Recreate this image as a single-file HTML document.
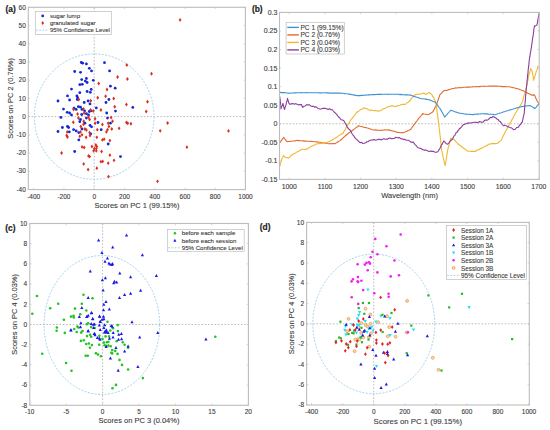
<!DOCTYPE html>
<html><head><meta charset="utf-8"><style>
html,body{margin:0;padding:0;background:#fff;width:550px;height:430px;overflow:hidden}
svg{display:block}
text{font-family:"Liberation Sans", sans-serif}
</style></head><body>
<svg width="550" height="430" viewBox="0 0 550 430">
<rect width="550" height="430" fill="#fff"/>
<line x1="28.3" y1="116.60" x2="245.4" y2="116.60" stroke="#b4b4b4" stroke-width="0.9" stroke-dasharray="1.6 1.7"/>
<line x1="94.20" y1="7.3" x2="94.20" y2="189.6" stroke="#b4b4b4" stroke-width="0.9" stroke-dasharray="1.6 1.7"/>
<ellipse cx="94.2" cy="116.6" rx="59.8" ry="62.7" fill="none" stroke="#92cbe6" stroke-width="0.85" stroke-dasharray="2 1.4"/>
<circle cx="81.3" cy="62.5" r="1.4" fill="#1528d2"/>
<circle cx="82.7" cy="63.2" r="1.4" fill="#1528d2"/>
<circle cx="86.4" cy="63.9" r="1.4" fill="#1528d2"/>
<circle cx="89.3" cy="68.3" r="1.4" fill="#1528d2"/>
<circle cx="91.5" cy="70.9" r="1.4" fill="#1528d2"/>
<circle cx="74.7" cy="71.5" r="1.4" fill="#1528d2"/>
<circle cx="80.5" cy="72.3" r="1.4" fill="#1528d2"/>
<circle cx="104.5" cy="62.7" r="1.4" fill="#1528d2"/>
<circle cx="109.6" cy="70.9" r="1.4" fill="#1528d2"/>
<circle cx="81.7" cy="79.6" r="1.4" fill="#1528d2"/>
<circle cx="86.4" cy="78.5" r="1.4" fill="#1528d2"/>
<circle cx="85.3" cy="81.1" r="1.4" fill="#1528d2"/>
<circle cx="87.1" cy="82.5" r="1.4" fill="#1528d2"/>
<circle cx="93.3" cy="80.3" r="1.4" fill="#1528d2"/>
<circle cx="79.8" cy="84.7" r="1.4" fill="#1528d2"/>
<circle cx="82.3" cy="84.3" r="1.4" fill="#1528d2"/>
<circle cx="71.5" cy="89.1" r="1.4" fill="#1528d2"/>
<circle cx="91.2" cy="89.4" r="1.4" fill="#1528d2"/>
<circle cx="87.1" cy="91.5" r="1.4" fill="#1528d2"/>
<circle cx="90.3" cy="92.3" r="1.4" fill="#1528d2"/>
<circle cx="79.8" cy="92.7" r="1.4" fill="#1528d2"/>
<circle cx="110.4" cy="86.2" r="1.4" fill="#1528d2"/>
<circle cx="115.2" cy="88.2" r="1.4" fill="#1528d2"/>
<circle cx="67.5" cy="95.9" r="1.4" fill="#1528d2"/>
<circle cx="76.9" cy="95.9" r="1.4" fill="#1528d2"/>
<circle cx="77.6" cy="97.7" r="1.4" fill="#1528d2"/>
<circle cx="69.6" cy="100.0" r="1.4" fill="#1528d2"/>
<circle cx="58.0" cy="101.0" r="1.4" fill="#1528d2"/>
<circle cx="77.3" cy="99.5" r="1.4" fill="#1528d2"/>
<circle cx="108.9" cy="99.5" r="1.4" fill="#1528d2"/>
<circle cx="106.0" cy="102.5" r="1.4" fill="#1528d2"/>
<circle cx="88.1" cy="101.0" r="1.4" fill="#1528d2"/>
<circle cx="84.2" cy="102.5" r="1.4" fill="#1528d2"/>
<circle cx="90.0" cy="103.9" r="1.4" fill="#1528d2"/>
<circle cx="63.5" cy="109.1" r="1.4" fill="#1528d2"/>
<circle cx="74.0" cy="108.2" r="1.4" fill="#1528d2"/>
<circle cx="76.2" cy="109.4" r="1.4" fill="#1528d2"/>
<circle cx="78.4" cy="106.7" r="1.4" fill="#1528d2"/>
<circle cx="80.5" cy="107.2" r="1.4" fill="#1528d2"/>
<circle cx="82.0" cy="109.4" r="1.4" fill="#1528d2"/>
<circle cx="84.6" cy="110.8" r="1.4" fill="#1528d2"/>
<circle cx="67.2" cy="112.3" r="1.4" fill="#1528d2"/>
<circle cx="69.6" cy="113.0" r="1.4" fill="#1528d2"/>
<circle cx="71.5" cy="114.9" r="1.4" fill="#1528d2"/>
<circle cx="81.7" cy="114.5" r="1.4" fill="#1528d2"/>
<circle cx="86.4" cy="113.7" r="1.4" fill="#1528d2"/>
<circle cx="89.3" cy="111.5" r="1.4" fill="#1528d2"/>
<circle cx="91.0" cy="110.8" r="1.4" fill="#1528d2"/>
<circle cx="88.5" cy="114.9" r="1.4" fill="#1528d2"/>
<circle cx="96.3" cy="107.9" r="1.4" fill="#1528d2"/>
<circle cx="106.7" cy="113.0" r="1.4" fill="#1528d2"/>
<circle cx="115.5" cy="111.1" r="1.4" fill="#1528d2"/>
<circle cx="60.9" cy="117.4" r="1.4" fill="#1528d2"/>
<circle cx="86.4" cy="118.1" r="1.4" fill="#1528d2"/>
<circle cx="80.5" cy="119.5" r="1.4" fill="#1528d2"/>
<circle cx="79.8" cy="121.7" r="1.4" fill="#1528d2"/>
<circle cx="84.9" cy="123.2" r="1.4" fill="#1528d2"/>
<circle cx="90.0" cy="125.4" r="1.4" fill="#1528d2"/>
<circle cx="91.5" cy="126.8" r="1.4" fill="#1528d2"/>
<circle cx="98.0" cy="122.5" r="1.4" fill="#1528d2"/>
<circle cx="107.5" cy="118.1" r="1.4" fill="#1528d2"/>
<circle cx="110.4" cy="123.2" r="1.4" fill="#1528d2"/>
<circle cx="62.4" cy="127.5" r="1.4" fill="#1528d2"/>
<circle cx="67.5" cy="126.5" r="1.4" fill="#1528d2"/>
<circle cx="68.6" cy="127.5" r="1.4" fill="#1528d2"/>
<circle cx="73.6" cy="129.7" r="1.4" fill="#1528d2"/>
<circle cx="76.2" cy="130.9" r="1.4" fill="#1528d2"/>
<circle cx="82.0" cy="129.0" r="1.4" fill="#1528d2"/>
<circle cx="101.2" cy="129.7" r="1.4" fill="#1528d2"/>
<circle cx="58.0" cy="131.5" r="1.4" fill="#1528d2"/>
<circle cx="69.3" cy="131.9" r="1.4" fill="#1528d2"/>
<circle cx="78.8" cy="132.6" r="1.4" fill="#1528d2"/>
<circle cx="90.7" cy="133.8" r="1.4" fill="#1528d2"/>
<circle cx="78.8" cy="139.9" r="1.4" fill="#1528d2"/>
<circle cx="108.2" cy="144.0" r="1.4" fill="#1528d2"/>
<circle cx="74.7" cy="151.5" r="1.4" fill="#1528d2"/>
<circle cx="120.5" cy="156.6" r="1.4" fill="#1528d2"/>
<circle cx="132.8" cy="107.4" r="1.4" fill="#1528d2"/>
<path d="M126.8 63.1L128.2 65.1L126.8 67.0L125.4 65.1Z" fill="#d8301e"/>
<path d="M117.6 75.0L119.0 77.0L117.6 79.0L116.2 77.0Z" fill="#d8301e"/>
<path d="M127.4 77.0L128.8 78.9L127.4 80.9L126.0 78.9Z" fill="#d8301e"/>
<path d="M98.7 81.5L100.1 83.5L98.7 85.5L97.3 83.5Z" fill="#d8301e"/>
<path d="M107.0 87.5L108.4 89.4L107.0 91.4L105.6 89.4Z" fill="#d8301e"/>
<path d="M97.7 95.8L99.1 97.7L97.7 99.7L96.3 97.7Z" fill="#d8301e"/>
<path d="M105.6 94.2L107.0 96.2L105.6 98.2L104.2 96.2Z" fill="#d8301e"/>
<path d="M113.7 96.5L115.1 98.4L113.7 100.4L112.3 98.4Z" fill="#d8301e"/>
<path d="M78.8 97.5L80.2 99.5L78.8 101.5L77.4 99.5Z" fill="#d8301e"/>
<path d="M90.7 98.8L92.1 100.7L90.7 102.7L89.3 100.7Z" fill="#d8301e"/>
<path d="M126.4 102.6L127.8 104.6L126.4 106.5L125.0 104.6Z" fill="#d8301e"/>
<path d="M73.6 107.5L75.0 109.4L73.6 111.4L72.2 109.4Z" fill="#d8301e"/>
<path d="M83.5 107.1L84.9 109.1L83.5 111.0L82.1 109.1Z" fill="#d8301e"/>
<path d="M90.4 108.1L91.8 110.1L90.4 112.0L89.0 110.1Z" fill="#d8301e"/>
<path d="M93.3 109.1L94.7 111.1L93.3 113.0L91.9 111.1Z" fill="#d8301e"/>
<path d="M100.9 108.1L102.3 110.1L100.9 112.0L99.5 110.1Z" fill="#d8301e"/>
<path d="M114.7 104.8L116.1 106.7L114.7 108.7L113.3 106.7Z" fill="#d8301e"/>
<path d="M77.6 112.0L79.0 114.0L77.6 116.0L76.2 114.0Z" fill="#d8301e"/>
<path d="M84.2 111.0L85.6 113.0L84.2 115.0L82.8 113.0Z" fill="#d8301e"/>
<path d="M88.5 115.0L89.9 116.9L88.5 118.9L87.1 116.9Z" fill="#d8301e"/>
<path d="M78.4 116.1L79.8 118.1L78.4 120.0L77.0 118.1Z" fill="#d8301e"/>
<path d="M95.1 116.8L96.5 118.8L95.1 120.8L93.7 118.8Z" fill="#d8301e"/>
<path d="M111.1 115.5L112.5 117.4L111.1 119.4L109.7 117.4Z" fill="#d8301e"/>
<path d="M73.3 120.2L74.7 122.2L73.3 124.2L71.9 122.2Z" fill="#d8301e"/>
<path d="M83.7 119.3L85.1 121.3L83.7 123.2L82.3 121.3Z" fill="#d8301e"/>
<path d="M83.5 122.2L84.9 124.2L83.5 126.2L82.1 124.2Z" fill="#d8301e"/>
<path d="M89.6 117.5L91.0 119.5L89.6 121.5L88.2 119.5Z" fill="#d8301e"/>
<path d="M95.1 121.2L96.5 123.2L95.1 125.2L93.7 123.2Z" fill="#d8301e"/>
<path d="M102.4 122.6L103.8 124.6L102.4 126.5L101.0 124.6Z" fill="#d8301e"/>
<path d="M108.2 121.2L109.6 123.2L108.2 125.2L106.8 123.2Z" fill="#d8301e"/>
<path d="M112.5 119.3L113.9 121.3L112.5 123.2L111.1 121.3Z" fill="#d8301e"/>
<path d="M126.4 120.5L127.8 122.5L126.4 124.5L125.0 122.5Z" fill="#d8301e"/>
<path d="M127.7 121.2L129.1 123.2L127.7 125.2L126.3 123.2Z" fill="#d8301e"/>
<path d="M80.8 124.5L82.2 126.5L80.8 128.4L79.4 126.5Z" fill="#d8301e"/>
<path d="M108.9 124.5L110.3 126.5L108.9 128.4L107.5 126.5Z" fill="#d8301e"/>
<path d="M84.9 127.0L86.3 129.0L84.9 130.9L83.5 129.0Z" fill="#d8301e"/>
<path d="M86.4 128.1L87.8 130.0L86.4 131.9L85.0 130.0Z" fill="#d8301e"/>
<path d="M97.3 127.7L98.7 129.7L97.3 131.6L95.9 129.7Z" fill="#d8301e"/>
<path d="M107.5 127.7L108.9 129.7L107.5 131.6L106.1 129.7Z" fill="#d8301e"/>
<path d="M111.8 127.0L113.2 129.0L111.8 130.9L110.4 129.0Z" fill="#d8301e"/>
<path d="M119.1 126.4L120.5 128.3L119.1 130.2L117.7 128.3Z" fill="#d8301e"/>
<path d="M67.2 130.0L68.6 131.9L67.2 133.8L65.8 131.9Z" fill="#d8301e"/>
<path d="M80.5 130.0L81.9 131.9L80.5 133.8L79.1 131.9Z" fill="#d8301e"/>
<path d="M89.6 130.7L91.0 132.6L89.6 134.5L88.2 132.6Z" fill="#d8301e"/>
<path d="M106.4 130.0L107.8 131.9L106.4 133.8L105.0 131.9Z" fill="#d8301e"/>
<path d="M66.7 133.6L68.1 135.5L66.7 137.4L65.3 135.5Z" fill="#d8301e"/>
<path d="M67.5 135.1L68.9 137.0L67.5 138.9L66.1 137.0Z" fill="#d8301e"/>
<path d="M79.8 134.4L81.2 136.3L79.8 138.2L78.4 136.3Z" fill="#d8301e"/>
<path d="M82.0 132.9L83.4 134.8L82.0 136.8L80.6 134.8Z" fill="#d8301e"/>
<path d="M86.1 135.4L87.5 137.3L86.1 139.2L84.7 137.3Z" fill="#d8301e"/>
<path d="M90.0 133.6L91.4 135.5L90.0 137.4L88.6 135.5Z" fill="#d8301e"/>
<path d="M96.8 135.4L98.2 137.3L96.8 139.2L95.4 137.3Z" fill="#d8301e"/>
<path d="M102.4 138.0L103.8 139.9L102.4 141.8L101.0 139.9Z" fill="#d8301e"/>
<path d="M104.1 137.2L105.5 139.2L104.1 141.1L102.7 139.2Z" fill="#d8301e"/>
<path d="M109.9 138.7L111.3 140.6L109.9 142.5L108.5 140.6Z" fill="#d8301e"/>
<path d="M95.8 143.1L97.2 145.0L95.8 146.9L94.4 145.0Z" fill="#d8301e"/>
<path d="M91.9 144.6L93.3 146.5L91.9 148.4L90.5 146.5Z" fill="#d8301e"/>
<path d="M82.0 145.0L83.4 146.9L82.0 148.8L80.6 146.9Z" fill="#d8301e"/>
<path d="M84.2 145.6L85.6 147.5L84.2 149.4L82.8 147.5Z" fill="#d8301e"/>
<path d="M94.4 146.7L95.8 148.6L94.4 150.5L93.0 148.6Z" fill="#d8301e"/>
<path d="M96.3 146.7L97.7 148.6L96.3 150.5L94.9 148.6Z" fill="#d8301e"/>
<path d="M96.8 144.6L98.2 146.5L96.8 148.4L95.4 146.5Z" fill="#d8301e"/>
<path d="M93.6 148.9L95.0 150.8L93.6 152.8L92.2 150.8Z" fill="#d8301e"/>
<path d="M96.3 148.9L97.7 150.8L96.3 152.8L94.9 150.8Z" fill="#d8301e"/>
<path d="M101.6 149.6L103.0 151.5L101.6 153.4L100.2 151.5Z" fill="#d8301e"/>
<path d="M61.6 151.1L63.0 153.0L61.6 154.9L60.2 153.0Z" fill="#d8301e"/>
<path d="M88.5 154.0L89.9 155.9L88.5 157.8L87.1 155.9Z" fill="#d8301e"/>
<path d="M89.6 154.7L91.0 156.6L89.6 158.5L88.2 156.6Z" fill="#d8301e"/>
<path d="M109.9 153.2L111.3 155.2L109.9 157.1L108.5 155.2Z" fill="#d8301e"/>
<path d="M100.9 159.8L102.3 161.7L100.9 163.6L99.5 161.7Z" fill="#d8301e"/>
<path d="M102.7 159.5L104.1 161.4L102.7 163.3L101.3 161.4Z" fill="#d8301e"/>
<path d="M114.0 158.4L115.4 160.3L114.0 162.2L112.6 160.3Z" fill="#d8301e"/>
<path d="M108.2 161.2L109.6 163.2L108.2 165.1L106.8 163.2Z" fill="#d8301e"/>
<path d="M83.7 162.0L85.1 163.9L83.7 165.8L82.3 163.9Z" fill="#d8301e"/>
<path d="M88.1 167.7L89.5 169.6L88.1 171.5L86.7 169.6Z" fill="#d8301e"/>
<path d="M96.8 166.2L98.2 168.2L96.8 170.1L95.4 168.2Z" fill="#d8301e"/>
<path d="M108.5 174.7L109.9 176.6L108.5 178.5L107.1 176.6Z" fill="#d8301e"/>
<path d="M151.5 71.8L152.9 73.8L151.5 75.8L150.1 73.8Z" fill="#d8301e"/>
<path d="M147.5 99.8L148.9 101.7L147.5 103.7L146.1 101.7Z" fill="#d8301e"/>
<path d="M146.2 109.5L147.6 111.5L146.2 113.5L144.8 111.5Z" fill="#d8301e"/>
<path d="M130.9 121.8L132.3 123.7L130.9 125.7L129.5 123.7Z" fill="#d8301e"/>
<path d="M167.6 121.1L169.0 123.1L167.6 125.0L166.2 123.1Z" fill="#d8301e"/>
<path d="M160.2 128.9L161.6 130.8L160.2 132.8L158.8 130.8Z" fill="#d8301e"/>
<path d="M186.9 145.2L188.3 147.2L186.9 149.1L185.5 147.2Z" fill="#d8301e"/>
<path d="M228.5 129.0L229.9 130.9L228.5 132.8L227.1 130.9Z" fill="#d8301e"/>
<path d="M157.5 179.4L158.9 181.3L157.5 183.2L156.1 181.3Z" fill="#d8301e"/>
<path d="M180.1 17.9L181.5 19.9L180.1 21.8L178.7 19.9Z" fill="#d8301e"/>
<rect x="28.3" y="7.3" width="217.10" height="182.30" fill="none" stroke="#bdbdbd" stroke-width="1.1"/>
<line x1="33.68" y1="189.6" x2="33.68" y2="187.79999999999998" stroke="#bdbdbd" stroke-width="0.6"/>
<line x1="33.68" y1="7.3" x2="33.68" y2="9.1" stroke="#bdbdbd" stroke-width="0.6"/>
<text x="33.68" y="198.80" font-size="6.5" text-anchor="middle" fill="#3a3a3a" stroke="#3a3a3a" stroke-width="0.1" font-weight="normal" >-400</text>
<line x1="63.94" y1="189.6" x2="63.94" y2="187.79999999999998" stroke="#bdbdbd" stroke-width="0.6"/>
<line x1="63.94" y1="7.3" x2="63.94" y2="9.1" stroke="#bdbdbd" stroke-width="0.6"/>
<text x="63.94" y="198.80" font-size="6.5" text-anchor="middle" fill="#3a3a3a" stroke="#3a3a3a" stroke-width="0.1" font-weight="normal" >-200</text>
<line x1="94.20" y1="189.6" x2="94.20" y2="187.79999999999998" stroke="#bdbdbd" stroke-width="0.6"/>
<line x1="94.20" y1="7.3" x2="94.20" y2="9.1" stroke="#bdbdbd" stroke-width="0.6"/>
<text x="94.20" y="198.80" font-size="6.5" text-anchor="middle" fill="#3a3a3a" stroke="#3a3a3a" stroke-width="0.1" font-weight="normal" >0</text>
<line x1="124.46" y1="189.6" x2="124.46" y2="187.79999999999998" stroke="#bdbdbd" stroke-width="0.6"/>
<line x1="124.46" y1="7.3" x2="124.46" y2="9.1" stroke="#bdbdbd" stroke-width="0.6"/>
<text x="124.46" y="198.80" font-size="6.5" text-anchor="middle" fill="#3a3a3a" stroke="#3a3a3a" stroke-width="0.1" font-weight="normal" >200</text>
<line x1="154.72" y1="189.6" x2="154.72" y2="187.79999999999998" stroke="#bdbdbd" stroke-width="0.6"/>
<line x1="154.72" y1="7.3" x2="154.72" y2="9.1" stroke="#bdbdbd" stroke-width="0.6"/>
<text x="154.72" y="198.80" font-size="6.5" text-anchor="middle" fill="#3a3a3a" stroke="#3a3a3a" stroke-width="0.1" font-weight="normal" >400</text>
<line x1="184.98" y1="189.6" x2="184.98" y2="187.79999999999998" stroke="#bdbdbd" stroke-width="0.6"/>
<line x1="184.98" y1="7.3" x2="184.98" y2="9.1" stroke="#bdbdbd" stroke-width="0.6"/>
<text x="184.98" y="198.80" font-size="6.5" text-anchor="middle" fill="#3a3a3a" stroke="#3a3a3a" stroke-width="0.1" font-weight="normal" >600</text>
<line x1="215.24" y1="189.6" x2="215.24" y2="187.79999999999998" stroke="#bdbdbd" stroke-width="0.6"/>
<line x1="215.24" y1="7.3" x2="215.24" y2="9.1" stroke="#bdbdbd" stroke-width="0.6"/>
<text x="215.24" y="198.80" font-size="6.5" text-anchor="middle" fill="#3a3a3a" stroke="#3a3a3a" stroke-width="0.1" font-weight="normal" >800</text>
<line x1="245.50" y1="189.6" x2="245.50" y2="187.79999999999998" stroke="#bdbdbd" stroke-width="0.6"/>
<line x1="245.50" y1="7.3" x2="245.50" y2="9.1" stroke="#bdbdbd" stroke-width="0.6"/>
<text x="245.50" y="198.80" font-size="6.5" text-anchor="middle" fill="#3a3a3a" stroke="#3a3a3a" stroke-width="0.1" font-weight="normal" >1000</text>
<line x1="28.3" y1="189.40" x2="30.1" y2="189.40" stroke="#bdbdbd" stroke-width="0.6"/>
<line x1="245.4" y1="189.40" x2="243.6" y2="189.40" stroke="#bdbdbd" stroke-width="0.6"/>
<text x="25.80" y="191.67" font-size="6.5" text-anchor="end" fill="#3a3a3a" stroke="#3a3a3a" stroke-width="0.1" font-weight="normal" >-40</text>
<line x1="28.3" y1="171.20" x2="30.1" y2="171.20" stroke="#bdbdbd" stroke-width="0.6"/>
<line x1="245.4" y1="171.20" x2="243.6" y2="171.20" stroke="#bdbdbd" stroke-width="0.6"/>
<text x="25.80" y="173.47" font-size="6.5" text-anchor="end" fill="#3a3a3a" stroke="#3a3a3a" stroke-width="0.1" font-weight="normal" >-30</text>
<line x1="28.3" y1="153.00" x2="30.1" y2="153.00" stroke="#bdbdbd" stroke-width="0.6"/>
<line x1="245.4" y1="153.00" x2="243.6" y2="153.00" stroke="#bdbdbd" stroke-width="0.6"/>
<text x="25.80" y="155.28" font-size="6.5" text-anchor="end" fill="#3a3a3a" stroke="#3a3a3a" stroke-width="0.1" font-weight="normal" >-20</text>
<line x1="28.3" y1="134.80" x2="30.1" y2="134.80" stroke="#bdbdbd" stroke-width="0.6"/>
<line x1="245.4" y1="134.80" x2="243.6" y2="134.80" stroke="#bdbdbd" stroke-width="0.6"/>
<text x="25.80" y="137.07" font-size="6.5" text-anchor="end" fill="#3a3a3a" stroke="#3a3a3a" stroke-width="0.1" font-weight="normal" >-10</text>
<line x1="28.3" y1="116.60" x2="30.1" y2="116.60" stroke="#bdbdbd" stroke-width="0.6"/>
<line x1="245.4" y1="116.60" x2="243.6" y2="116.60" stroke="#bdbdbd" stroke-width="0.6"/>
<text x="25.80" y="118.88" font-size="6.5" text-anchor="end" fill="#3a3a3a" stroke="#3a3a3a" stroke-width="0.1" font-weight="normal" >0</text>
<line x1="28.3" y1="98.40" x2="30.1" y2="98.40" stroke="#bdbdbd" stroke-width="0.6"/>
<line x1="245.4" y1="98.40" x2="243.6" y2="98.40" stroke="#bdbdbd" stroke-width="0.6"/>
<text x="25.80" y="100.67" font-size="6.5" text-anchor="end" fill="#3a3a3a" stroke="#3a3a3a" stroke-width="0.1" font-weight="normal" >10</text>
<line x1="28.3" y1="80.20" x2="30.1" y2="80.20" stroke="#bdbdbd" stroke-width="0.6"/>
<line x1="245.4" y1="80.20" x2="243.6" y2="80.20" stroke="#bdbdbd" stroke-width="0.6"/>
<text x="25.80" y="82.47" font-size="6.5" text-anchor="end" fill="#3a3a3a" stroke="#3a3a3a" stroke-width="0.1" font-weight="normal" >20</text>
<line x1="28.3" y1="62.00" x2="30.1" y2="62.00" stroke="#bdbdbd" stroke-width="0.6"/>
<line x1="245.4" y1="62.00" x2="243.6" y2="62.00" stroke="#bdbdbd" stroke-width="0.6"/>
<text x="25.80" y="64.27" font-size="6.5" text-anchor="end" fill="#3a3a3a" stroke="#3a3a3a" stroke-width="0.1" font-weight="normal" >30</text>
<line x1="28.3" y1="43.80" x2="30.1" y2="43.80" stroke="#bdbdbd" stroke-width="0.6"/>
<line x1="245.4" y1="43.80" x2="243.6" y2="43.80" stroke="#bdbdbd" stroke-width="0.6"/>
<text x="25.80" y="46.07" font-size="6.5" text-anchor="end" fill="#3a3a3a" stroke="#3a3a3a" stroke-width="0.1" font-weight="normal" >40</text>
<line x1="28.3" y1="25.60" x2="30.1" y2="25.60" stroke="#bdbdbd" stroke-width="0.6"/>
<line x1="245.4" y1="25.60" x2="243.6" y2="25.60" stroke="#bdbdbd" stroke-width="0.6"/>
<text x="25.80" y="27.87" font-size="6.5" text-anchor="end" fill="#3a3a3a" stroke="#3a3a3a" stroke-width="0.1" font-weight="normal" >50</text>
<line x1="28.3" y1="7.40" x2="30.1" y2="7.40" stroke="#bdbdbd" stroke-width="0.6"/>
<line x1="245.4" y1="7.40" x2="243.6" y2="7.40" stroke="#bdbdbd" stroke-width="0.6"/>
<text x="25.80" y="9.67" font-size="6.5" text-anchor="end" fill="#3a3a3a" stroke="#3a3a3a" stroke-width="0.1" font-weight="normal" >60</text>
<text x="137.00" y="207.80" font-size="7.5" text-anchor="middle" fill="#3a3a3a" stroke="#3a3a3a" stroke-width="0.1" font-weight="normal" >Scores on PC 1 (99.15%)</text>
<text x="0.00" y="0.00" font-size="7.5" text-anchor="middle" fill="#3a3a3a" stroke="#3a3a3a" stroke-width="0.1" font-weight="normal" transform="translate(13.3 98.4) rotate(-90)">Scores on PC 2 (0.76%)</text>
<text x="5.50" y="12.40" font-size="8.4" text-anchor="start" fill="#222" stroke="#222" stroke-width="0.18" font-weight="bold" >(a)</text>
<rect x="35.3" y="11.5" width="76.0" height="23.1" fill="#fff" stroke="#bdbdbd" stroke-width="0.7"/>
<circle cx="42.7" cy="15.9" r="1.4" fill="#1528d2"/>
<path d="M42.7 21.1L44.1 23.0L42.7 24.9L41.3 23.0Z" fill="#d8301e"/>
<line x1="36" y1="30.2" x2="48.6" y2="30.2" stroke="#8cc6e0" stroke-width="0.8" stroke-dasharray="1.8 1.4"/>
<text x="49.90" y="18.10" font-size="6.1" text-anchor="start" fill="#3a3a3a" stroke="#3a3a3a" stroke-width="0.1" font-weight="normal" >sugar lump</text>
<text x="49.90" y="25.20" font-size="6.1" text-anchor="start" fill="#3a3a3a" stroke="#3a3a3a" stroke-width="0.1" font-weight="normal" >granulated sugar</text>
<text x="49.90" y="32.40" font-size="6.0" text-anchor="start" fill="#3a3a3a" stroke="#3a3a3a" stroke-width="0.1" font-weight="normal" >95% Confidence Level</text>
<line x1="279.5" y1="123.79" x2="539.2" y2="123.79" stroke="#b4b4b4" stroke-width="0.9" stroke-dasharray="1.6 1.7"/>
<path d="M280.0 142.6 L280.9 141.2 L281.9 139.9 L282.8 138.7 L283.7 137.3 L284.5 138.5 L285.4 139.6 L286.2 140.6 L287.0 141.8 L288.3 141.5 L289.6 141.5 L291.0 141.2 L292.3 141.0 L293.6 141.0 L295.0 140.9 L296.3 140.5 L297.6 140.4 L298.9 140.6 L300.3 140.8 L301.6 140.8 L303.0 140.9 L304.3 141.1 L305.7 141.0 L307.0 141.3 L308.4 141.2 L309.9 141.3 L311.3 141.4 L312.8 141.5 L314.2 141.8 L315.7 141.7 L317.1 141.9 L318.5 142.2 L320.0 142.3 L321.4 142.6 L322.8 142.7 L324.2 142.9 L325.6 143.2 L327.1 143.5 L328.5 143.7 L329.8 143.6 L331.1 143.7 L332.4 143.6 L333.7 143.6 L335.0 143.7 L336.2 142.9 L337.5 142.0 L338.8 141.4 L340.0 140.6 L341.1 139.8 L342.1 138.8 L343.2 137.8 L344.2 137.0 L345.3 135.8 L346.3 135.0 L347.4 134.2 L348.5 133.2 L349.6 132.4 L350.8 131.5 L351.9 130.8 L353.0 130.0 L354.1 129.1 L355.2 128.4 L356.4 127.4 L357.5 126.7 L358.6 125.8 L360.1 126.2 L361.6 126.5 L363.0 127.0 L364.5 127.4 L366.0 127.6 L367.2 128.0 L368.5 128.2 L369.8 128.8 L371.0 129.2 L372.2 129.7 L373.5 130.0 L375.0 129.9 L376.5 130.1 L378.0 130.3 L379.5 130.2 L381.0 130.4 L382.5 130.2 L383.9 130.0 L385.4 129.9 L386.8 130.0 L388.3 129.7 L389.6 130.1 L391.0 130.5 L392.3 131.0 L393.6 131.1 L394.9 131.6 L396.3 132.0 L397.6 132.4 L399.0 132.5 L400.4 132.7 L401.8 132.6 L403.2 132.8 L404.4 132.2 L405.7 131.8 L406.9 131.3 L408.1 130.5 L409.4 130.0 L410.6 129.4 L411.4 128.3 L412.2 127.2 L413.1 126.1 L413.9 124.9 L414.7 123.7 L415.5 122.7 L416.4 121.5 L417.2 120.5 L418.0 119.4 L418.9 118.2 L419.9 117.1 L420.8 116.0 L421.8 114.9 L422.7 113.6 L424.1 114.0 L425.5 114.2 L426.9 114.5 L428.3 114.7 L429.4 113.9 L430.6 113.2 L431.8 112.4 L432.9 111.8 L433.5 110.4 L434.2 109.2 L434.8 108.0 L435.4 106.8 L436.1 105.6 L436.7 104.3 L437.1 102.9 L437.6 101.6 L438.0 100.2 L438.5 98.9 L438.9 97.5 L439.4 96.4 L439.8 94.9 L440.8 93.8 L441.8 92.8 L442.7 91.9 L443.7 90.9 L445.0 90.5 L446.3 90.4 L447.7 90.1 L449.0 89.6 L450.3 89.3 L451.6 88.8 L453.0 88.5 L454.3 88.3 L455.6 87.9 L457.0 88.0 L458.4 87.7 L459.7 87.6 L461.1 87.7 L462.5 87.5 L463.9 87.3 L465.3 87.3 L466.6 87.1 L468.0 87.1 L469.4 87.1 L470.7 87.0 L472.0 86.9 L473.4 86.7 L474.7 86.7 L476.0 86.6 L477.3 86.7 L478.6 86.5 L480.0 86.6 L481.3 86.3 L482.6 86.3 L483.9 86.4 L485.2 86.3 L486.6 86.2 L487.9 86.2 L489.2 86.1 L490.5 86.1 L491.8 86.0 L493.1 86.1 L494.5 86.1 L495.8 86.1 L497.1 86.1 L498.4 86.2 L499.7 86.3 L501.0 86.4 L502.3 86.6 L503.7 86.5 L505.0 86.6 L506.3 86.7 L507.6 86.7 L508.9 86.8 L510.2 87.0 L511.5 87.3 L512.8 87.6 L514.1 87.8 L515.4 88.2 L516.7 88.6 L518.0 88.8 L519.2 89.2 L520.4 89.8 L521.6 90.3 L522.9 90.6 L524.1 91.3 L525.3 91.9 L526.6 92.5 L527.8 93.2 L529.1 93.7 L530.3 94.3 L531.6 95.1 L533.0 94.9 L534.5 95.1 L535.1 96.4 L535.6 97.6 L536.2 98.9 L536.8 100.3 L537.5 101.5 L538.2 102.6 L538.9 104.0" fill="none" stroke="#e2692f" stroke-width="1.1" stroke-linejoin="round"/>
<path d="M280.0 166.2 L280.3 164.5 L280.6 163.1 L281.0 162.2 L281.3 160.7 L281.8 159.0 L282.2 158.3 L282.7 157.2 L283.2 155.7 L284.2 156.3 L285.3 157.2 L286.7 157.5 L288.1 158.1 L289.1 157.8 L290.0 156.6 L291.0 155.6 L292.1 155.1 L293.2 154.0 L294.3 153.5 L295.7 152.9 L297.0 151.9 L298.4 151.3 L299.7 150.6 L301.1 149.7 L302.4 149.2 L303.6 149.3 L304.9 149.8 L306.1 149.1 L307.3 149.1 L308.5 147.9 L309.8 147.3 L311.0 146.6 L312.2 146.1 L313.4 145.2 L314.6 145.0 L315.9 144.2 L317.1 143.7 L318.7 143.6 L320.4 143.2 L322.0 143.4 L323.6 142.9 L325.3 142.5 L326.9 142.8 L328.2 141.7 L329.5 141.3 L330.8 140.8 L332.1 140.0 L333.4 139.2 L334.6 138.5 L335.9 137.7 L337.1 137.1 L338.3 135.8 L339.5 135.4 L340.6 134.5 L341.8 133.8 L343.0 133.5 L343.6 132.1 L344.3 130.9 L345.0 129.9 L345.6 128.8 L346.3 127.3 L347.0 126.3 L347.7 125.1 L348.4 123.9 L349.1 122.9 L349.8 121.6 L350.5 120.5 L351.2 119.3 L352.1 118.5 L353.1 117.2 L354.0 116.1 L354.9 115.0 L355.8 113.4 L356.8 112.5 L357.7 111.6 L359.0 110.9 L360.3 109.8 L361.6 109.1 L362.9 108.7 L364.2 107.8 L365.5 108.4 L366.8 108.7 L368.1 109.5 L369.4 110.1 L370.7 110.6 L372.0 110.1 L373.4 110.6 L374.7 110.7 L376.0 110.4 L377.3 111.0 L378.7 111.1 L380.0 110.7 L381.1 110.5 L382.3 109.4 L383.5 108.8 L384.6 108.4 L385.9 107.9 L387.2 107.0 L388.5 106.7 L389.8 106.4 L391.1 105.8 L392.7 105.9 L394.2 106.2 L395.8 106.8 L397.2 105.8 L398.6 105.7 L399.9 105.2 L401.3 104.5 L402.9 104.4 L404.4 104.4 L406.0 104.0 L407.1 102.6 L408.3 102.2 L409.5 101.0 L410.6 100.0 L411.5 98.3 L412.5 97.2 L413.4 95.9 L414.3 95.3 L415.7 94.6 L417.1 94.2 L418.6 94.1 L420.0 94.2 L421.8 93.8 L423.6 93.0 L425.5 94.3 L426.7 94.1 L428.0 93.1 L429.2 92.4 L430.5 93.3 L431.9 94.6 L432.5 96.2 L433.2 97.1 L433.9 98.1 L434.5 99.8 L435.1 100.7 L435.8 102.0 L436.0 102.8 L436.2 104.7 L436.3 105.5 L436.5 107.4 L436.7 108.4 L436.9 109.7 L437.0 111.2 L437.2 112.8 L437.4 113.7 L437.6 114.9 L437.7 116.5 L437.9 117.6 L438.1 118.9 L438.3 120.3 L438.4 121.5 L438.6 123.0 L438.8 124.4 L439.0 125.7 L439.1 127.4 L439.3 128.4 L439.4 129.9 L439.6 131.0 L439.7 132.5 L439.9 133.6 L440.0 135.1 L440.2 136.3 L440.3 138.2 L440.5 139.4 L440.6 140.5 L440.8 142.1 L440.9 143.7 L441.1 144.5 L441.2 146.4 L441.4 147.4 L441.5 148.8 L441.7 150.4 L442.0 151.4 L442.3 152.8 L442.6 154.3 L442.8 155.8 L443.1 156.7 L443.4 158.3 L443.7 159.6 L444.0 160.8 L444.2 162.0 L444.5 163.3 L444.8 164.4 L445.1 165.7 L445.3 164.4 L445.5 163.5 L445.8 161.9 L446.0 160.5 L446.2 159.1 L446.4 158.3 L446.6 157.0 L446.8 155.6 L447.1 154.0 L447.3 152.7 L447.5 151.4 L447.7 150.2 L448.0 148.6 L448.3 147.5 L448.7 146.1 L449.0 145.3 L449.3 144.0 L449.6 142.4 L450.0 140.8 L450.3 140.0 L450.6 138.3 L452.1 138.7 L453.6 139.0 L454.6 140.2 L455.6 141.3 L456.6 142.3 L457.5 143.1 L458.5 144.3 L459.5 145.0 L460.6 146.0 L461.8 146.7 L462.9 147.8 L464.0 148.4 L465.1 149.2 L466.3 150.2 L467.4 151.0 L468.7 151.3 L470.0 151.2 L471.4 151.4 L472.7 151.3 L474.0 151.4 L475.3 151.5 L476.6 150.5 L477.9 149.8 L479.2 149.6 L480.6 148.4 L481.9 148.1 L483.2 147.4 L484.4 146.3 L485.6 146.2 L486.8 145.5 L488.0 144.7 L489.2 144.1 L490.5 144.0 L491.8 143.4 L493.1 143.6 L494.5 143.5 L495.8 143.6 L497.1 143.5 L498.2 142.7 L499.2 141.7 L500.2 141.1 L501.3 140.1 L501.9 138.9 L502.6 137.3 L503.2 135.9 L503.8 134.7 L504.5 133.6 L505.1 132.2 L505.7 131.4 L506.3 130.0 L507.0 128.7 L507.6 127.5 L508.3 126.3 L509.0 125.0 L509.7 123.4 L510.4 122.7 L511.1 121.5 L511.8 120.1 L512.4 118.9 L513.1 117.8 L513.8 116.1 L514.5 115.4 L515.2 113.8 L515.9 112.5 L516.6 111.5 L517.3 110.6 L518.0 109.1 L518.7 108.3 L519.4 107.3 L520.1 105.8 L520.8 104.6 L521.5 103.5 L522.2 102.4 L522.6 101.2 L523.0 99.7 L523.3 98.4 L523.7 96.7 L524.1 95.4 L524.5 94.2 L524.9 93.2 L525.3 91.5 L525.6 90.4 L526.0 88.7 L526.4 87.4 L526.7 86.1 L527.0 85.0 L527.2 83.6 L527.5 82.2 L527.8 80.6 L528.1 79.3 L528.3 77.9 L528.6 76.5 L528.9 74.8 L529.2 74.1 L529.6 72.4 L529.9 71.7 L530.3 70.4 L530.6 68.5 L531.4 69.8 L532.2 71.1 L532.4 72.6 L532.6 73.6 L532.8 74.8 L533.1 76.1 L533.3 77.9 L533.5 78.8 L533.7 80.4 L534.1 78.6 L534.5 77.4 L535.0 76.2 L535.4 74.2 L535.8 73.2 L536.3 71.5 L536.8 70.4 L537.3 68.8 L537.8 67.0 L538.3 65.7" fill="none" stroke="#f0b732" stroke-width="1.1" stroke-linejoin="round"/>
<path d="M280.0 92.4 L281.4 92.6 L282.9 92.6 L284.3 92.6 L285.7 92.7 L287.1 93.0 L288.6 93.1 L290.0 93.2 L291.4 93.0 L292.9 93.0 L294.3 92.9 L295.7 92.9 L297.1 92.7 L298.6 92.7 L300.0 92.7 L301.3 92.5 L302.6 92.7 L303.9 92.7 L305.2 92.8 L306.5 92.6 L307.8 92.7 L309.1 92.7 L310.4 92.8 L311.8 92.8 L313.1 92.7 L314.4 92.8 L315.7 92.7 L317.0 92.7 L318.3 92.7 L319.6 92.9 L320.9 92.8 L322.2 93.0 L323.5 92.8 L324.8 92.8 L326.1 92.9 L327.4 92.9 L328.7 92.9 L330.0 93.1 L331.4 93.1 L332.7 93.1 L334.0 93.0 L335.3 93.1 L336.6 93.1 L337.9 93.1 L339.2 93.1 L340.5 93.0 L341.8 93.2 L343.1 93.3 L344.4 93.6 L345.7 93.7 L347.0 93.8 L348.3 94.0 L349.6 94.4 L350.8 94.4 L352.1 94.7 L353.4 94.9 L354.7 95.1 L356.0 95.4 L357.3 95.6 L358.6 95.6 L360.0 95.6 L361.3 95.4 L362.7 95.4 L364.0 95.2 L365.4 95.1 L366.7 95.0 L368.1 94.9 L369.4 94.9 L370.8 94.7 L372.1 94.5 L373.5 94.6 L374.8 94.6 L376.1 94.5 L377.4 94.4 L378.7 94.4 L380.1 94.3 L381.4 94.4 L382.7 94.3 L384.0 94.3 L385.3 94.3 L386.6 94.3 L387.9 94.4 L389.2 94.3 L390.6 94.2 L391.9 94.2 L393.2 94.2 L394.5 94.2 L395.8 94.2 L397.1 94.2 L398.5 94.3 L399.8 94.6 L401.2 94.4 L402.5 94.6 L403.9 94.7 L405.2 94.9 L406.6 94.8 L407.9 94.9 L409.3 95.0 L410.6 95.1 L411.9 95.6 L413.3 96.2 L414.6 96.6 L416.0 97.1 L417.3 97.3 L418.7 97.8 L420.0 98.5 L421.4 98.7 L422.8 98.8 L424.2 99.0 L425.7 99.1 L427.1 99.4 L428.5 99.7 L429.9 99.9 L431.1 100.5 L432.3 101.1 L433.4 101.5 L434.6 102.1 L435.8 102.7 L436.6 104.0 L437.5 105.1 L438.3 106.4 L439.1 107.5 L440.0 108.6 L440.8 109.8 L441.4 110.9 L442.1 112.1 L442.8 113.2 L443.4 114.6 L444.1 115.7 L444.7 117.1 L445.7 115.9 L446.7 114.8 L447.7 113.6 L448.7 112.5 L449.6 111.5 L450.6 110.3 L451.9 110.6 L453.1 111.1 L454.4 111.6 L455.7 112.0 L457.0 112.4 L458.2 112.8 L459.5 113.3 L460.8 113.3 L462.1 113.5 L463.5 113.7 L464.8 114.0 L466.1 114.1 L467.4 114.3 L468.8 114.3 L470.1 114.4 L471.4 114.5 L472.7 114.6 L474.0 114.4 L475.3 114.3 L476.6 114.1 L478.0 114.1 L479.3 114.0 L480.6 113.9 L481.9 113.7 L483.2 113.7 L484.5 113.9 L485.8 113.8 L487.2 113.9 L488.5 114.1 L489.8 114.2 L491.1 114.3 L492.5 114.3 L493.8 114.6 L495.1 114.7 L496.4 114.2 L497.6 113.7 L498.9 113.5 L500.1 113.0 L501.4 112.7 L502.6 112.2 L503.9 111.8 L505.1 111.5 L506.4 111.0 L507.6 110.8 L508.9 110.3 L510.1 109.9 L511.4 109.5 L512.6 109.2 L513.9 108.8 L515.1 108.5 L516.4 108.0 L517.6 107.6 L518.9 107.2 L520.1 107.0 L521.4 106.6 L522.8 106.4 L524.1 106.2 L525.5 106.0 L526.8 105.9 L528.2 105.7 L529.5 105.5 L530.8 106.1 L532.0 106.6 L533.4 107.5 L534.7 108.5 L535.8 107.6 L536.8 106.4 L537.9 105.0 L538.9 104.0" fill="none" stroke="#3d92d4" stroke-width="1.1" stroke-linejoin="round"/>
<path d="M279.8 96.6 L279.9 98.1 L280.1 99.1 L280.2 100.4 L280.3 101.7 L280.5 102.8 L280.6 103.9 L280.7 105.6 L280.9 107.0 L281.0 109.0 L281.6 106.4 L282.3 105.9 L282.9 103.3 L283.3 105.0 L283.8 107.0 L284.2 108.5 L284.6 109.5 L285.0 107.7 L285.3 106.9 L285.7 105.5 L286.1 104.8 L286.4 102.6 L286.8 101.5 L287.1 100.8 L287.5 98.4 L288.1 100.4 L288.6 102.3 L289.2 103.7 L289.8 104.3 L291.4 103.9 L292.9 103.6 L294.5 104.2 L295.9 103.6 L297.3 104.5 L298.8 104.9 L300.2 104.5 L301.6 104.6 L302.2 106.6 L302.8 107.4 L304.0 106.2 L305.2 106.0 L306.4 104.7 L307.8 104.9 L309.2 104.8 L310.7 105.9 L312.1 106.4 L313.5 106.3 L314.7 107.2 L315.9 106.7 L317.0 107.6 L318.2 108.5 L319.6 109.0 L321.0 109.0 L322.5 108.4 L323.9 108.2 L325.3 108.4 L326.7 108.7 L328.1 109.5 L329.6 108.8 L331.0 109.7 L332.4 109.9 L333.3 111.0 L334.2 112.0 L335.1 112.8 L335.9 113.5 L336.8 114.6 L337.7 115.7 L338.6 117.2 L339.5 117.4 L340.0 118.3 L341.2 119.8 L342.5 120.0 L343.7 120.6 L344.5 121.7 L345.3 123.6 L346.1 124.5 L346.9 126.5 L347.7 127.6 L348.5 128.9 L349.3 129.2 L350.1 130.2 L350.9 131.4 L351.7 133.1 L352.5 134.5 L353.3 135.4 L354.1 136.3 L354.9 137.7 L356.0 138.9 L357.1 139.9 L358.2 140.9 L359.3 142.0 L360.4 142.7 L361.7 142.3 L362.9 143.5 L364.2 143.2 L365.6 142.8 L366.9 141.8 L368.3 141.6 L369.7 140.2 L371.2 140.1 L372.7 139.9 L374.2 139.6 L375.7 140.3 L377.2 139.8 L378.5 139.4 L379.9 139.3 L381.2 139.9 L382.5 139.2 L383.8 138.7 L385.2 139.3 L386.5 139.0 L387.8 139.2 L389.2 138.0 L390.5 138.3 L391.8 138.6 L393.1 138.5 L394.5 138.4 L395.8 137.2 L397.2 137.7 L398.6 137.6 L399.9 137.9 L401.3 139.0 L402.6 138.9 L403.8 139.6 L405.1 139.3 L406.3 140.3 L407.6 140.2 L408.8 140.3 L410.3 141.6 L411.9 142.4 L413.4 142.0 L414.3 143.7 L415.2 144.9 L416.2 145.5 L417.1 146.8 L418.0 147.7 L420.0 148.2 L421.3 148.7 L422.6 149.6 L423.9 150.1 L425.3 150.0 L426.6 150.2 L427.9 151.0 L429.3 151.6 L430.7 151.1 L432.1 151.4 L433.6 151.4 L435.0 152.3 L436.4 152.1 L437.8 151.7 L438.5 150.5 L439.1 149.7 L439.8 148.6 L440.4 147.5 L441.1 145.7 L441.7 144.5 L442.4 144.0 L443.0 142.4 L443.7 141.0 L445.0 142.1 L446.4 143.8 L447.7 144.1 L448.7 143.2 L449.7 141.8 L450.6 140.7 L451.6 140.0 L452.6 139.0 L453.4 137.1 L454.1 135.8 L454.9 135.4 L455.7 133.6 L456.4 132.3 L457.2 132.3 L458.0 130.6 L458.7 130.0 L459.5 128.4 L460.5 128.1 L461.5 126.8 L462.5 125.6 L463.5 124.6 L464.5 124.4 L465.5 123.7 L466.9 123.8 L468.3 122.7 L469.7 123.2 L471.1 122.8 L472.5 122.8 L473.9 122.2 L475.3 122.2 L476.6 122.4 L477.9 122.7 L479.2 121.6 L480.6 121.9 L481.9 122.1 L483.2 122.2 L484.4 120.6 L485.7 119.9 L486.9 120.3 L488.1 119.7 L489.4 118.5 L490.6 117.3 L491.9 117.7 L493.1 116.5 L495.0 117.5 L496.0 118.0 L497.0 119.2 L498.0 119.3 L499.0 120.9 L500.1 121.4 L501.2 122.8 L502.3 124.5 L503.4 125.7 L504.8 125.3 L506.1 125.8 L507.5 126.4 L508.8 127.1 L510.0 127.6 L511.3 127.8 L512.5 128.6 L513.8 129.8 L515.2 129.3 L516.6 127.5 L518.0 127.5 L518.8 126.7 L519.7 124.8 L520.5 124.7 L521.4 122.8 L522.2 122.3 L522.5 120.9 L522.8 119.7 L523.1 117.9 L523.4 116.7 L523.7 115.6 L524.0 114.1 L524.3 113.0 L524.4 111.4 L524.5 110.1 L524.6 108.3 L524.7 107.7 L524.8 106.2 L524.9 104.6 L525.0 103.9 L525.1 102.6 L525.3 100.9 L525.4 99.3 L525.5 98.3 L525.6 96.6 L525.7 95.3 L525.8 94.3 L525.9 92.6 L526.0 91.7 L526.1 90.5 L526.3 88.6 L526.4 88.0 L526.5 86.1 L526.7 85.5 L526.8 84.3 L526.9 82.7 L527.0 80.8 L527.2 80.0 L527.3 78.6 L527.4 78.0 L527.6 75.7 L527.7 75.2 L527.8 74.1 L528.0 72.5 L528.1 71.3 L528.2 69.2 L528.4 68.8 L528.5 66.8 L528.7 66.0 L528.9 64.6 L529.0 62.3 L529.1 61.7 L529.3 60.5 L529.5 58.2 L529.7 57.3 L529.9 56.5 L530.1 54.5 L530.3 54.1 L530.5 52.0 L530.8 51.4 L531.0 49.3 L531.2 48.5 L531.4 47.7 L531.6 45.5 L531.8 44.3 L532.0 43.3 L532.2 41.7 L532.4 40.1 L532.5 38.9 L532.7 37.6 L532.9 37.2 L533.1 35.6 L533.3 34.5 L533.5 32.3 L533.7 31.7 L533.8 29.6 L534.0 28.8 L534.2 27.6 L534.4 25.9 L535.7 25.9 L537.0 24.9 L537.2 23.6 L537.5 22.6 L537.7 20.3 L538.0 20.0 L538.2 18.2 L538.5 16.6 L538.7 15.7 L539.0 13.8 L539.2 12.7" fill="none" stroke="#8b3e9c" stroke-width="1.1" stroke-linejoin="round"/>
<rect x="279.5" y="12.4" width="259.70" height="167.00" fill="none" stroke="#bdbdbd" stroke-width="1.1"/>
<line x1="289.30" y1="179.4" x2="289.30" y2="177.6" stroke="#bdbdbd" stroke-width="0.6"/>
<line x1="289.30" y1="12.4" x2="289.30" y2="14.200000000000001" stroke="#bdbdbd" stroke-width="0.6"/>
<text x="289.30" y="188.60" font-size="6.8" text-anchor="middle" fill="#3a3a3a" stroke="#3a3a3a" stroke-width="0.1" font-weight="normal" >1000</text>
<line x1="324.95" y1="179.4" x2="324.95" y2="177.6" stroke="#bdbdbd" stroke-width="0.6"/>
<line x1="324.95" y1="12.4" x2="324.95" y2="14.200000000000001" stroke="#bdbdbd" stroke-width="0.6"/>
<text x="324.95" y="188.60" font-size="6.8" text-anchor="middle" fill="#3a3a3a" stroke="#3a3a3a" stroke-width="0.1" font-weight="normal" >1100</text>
<line x1="360.60" y1="179.4" x2="360.60" y2="177.6" stroke="#bdbdbd" stroke-width="0.6"/>
<line x1="360.60" y1="12.4" x2="360.60" y2="14.200000000000001" stroke="#bdbdbd" stroke-width="0.6"/>
<text x="360.60" y="188.60" font-size="6.8" text-anchor="middle" fill="#3a3a3a" stroke="#3a3a3a" stroke-width="0.1" font-weight="normal" >1200</text>
<line x1="396.25" y1="179.4" x2="396.25" y2="177.6" stroke="#bdbdbd" stroke-width="0.6"/>
<line x1="396.25" y1="12.4" x2="396.25" y2="14.200000000000001" stroke="#bdbdbd" stroke-width="0.6"/>
<text x="396.25" y="188.60" font-size="6.8" text-anchor="middle" fill="#3a3a3a" stroke="#3a3a3a" stroke-width="0.1" font-weight="normal" >1300</text>
<line x1="431.90" y1="179.4" x2="431.90" y2="177.6" stroke="#bdbdbd" stroke-width="0.6"/>
<line x1="431.90" y1="12.4" x2="431.90" y2="14.200000000000001" stroke="#bdbdbd" stroke-width="0.6"/>
<text x="431.90" y="188.60" font-size="6.8" text-anchor="middle" fill="#3a3a3a" stroke="#3a3a3a" stroke-width="0.1" font-weight="normal" >1400</text>
<line x1="467.55" y1="179.4" x2="467.55" y2="177.6" stroke="#bdbdbd" stroke-width="0.6"/>
<line x1="467.55" y1="12.4" x2="467.55" y2="14.200000000000001" stroke="#bdbdbd" stroke-width="0.6"/>
<text x="467.55" y="188.60" font-size="6.8" text-anchor="middle" fill="#3a3a3a" stroke="#3a3a3a" stroke-width="0.1" font-weight="normal" >1500</text>
<line x1="503.20" y1="179.4" x2="503.20" y2="177.6" stroke="#bdbdbd" stroke-width="0.6"/>
<line x1="503.20" y1="12.4" x2="503.20" y2="14.200000000000001" stroke="#bdbdbd" stroke-width="0.6"/>
<text x="503.20" y="188.60" font-size="6.8" text-anchor="middle" fill="#3a3a3a" stroke="#3a3a3a" stroke-width="0.1" font-weight="normal" >1600</text>
<line x1="538.85" y1="179.4" x2="538.85" y2="177.6" stroke="#bdbdbd" stroke-width="0.6"/>
<line x1="538.85" y1="12.4" x2="538.85" y2="14.200000000000001" stroke="#bdbdbd" stroke-width="0.6"/>
<text x="538.85" y="188.60" font-size="6.8" text-anchor="middle" fill="#3a3a3a" stroke="#3a3a3a" stroke-width="0.1" font-weight="normal" >1700</text>
<line x1="279.5" y1="12.40" x2="281.3" y2="12.40" stroke="#bdbdbd" stroke-width="0.6"/>
<line x1="539.2" y1="12.40" x2="537.4000000000001" y2="12.40" stroke="#bdbdbd" stroke-width="0.6"/>
<text x="277.40" y="14.85" font-size="7.0" text-anchor="end" fill="#3a3a3a" stroke="#3a3a3a" stroke-width="0.1" font-weight="normal" >0.3</text>
<line x1="279.5" y1="30.96" x2="281.3" y2="30.96" stroke="#bdbdbd" stroke-width="0.6"/>
<line x1="539.2" y1="30.96" x2="537.4000000000001" y2="30.96" stroke="#bdbdbd" stroke-width="0.6"/>
<text x="277.40" y="33.41" font-size="7.0" text-anchor="end" fill="#3a3a3a" stroke="#3a3a3a" stroke-width="0.1" font-weight="normal" >0.25</text>
<line x1="279.5" y1="49.53" x2="281.3" y2="49.53" stroke="#bdbdbd" stroke-width="0.6"/>
<line x1="539.2" y1="49.53" x2="537.4000000000001" y2="49.53" stroke="#bdbdbd" stroke-width="0.6"/>
<text x="277.40" y="51.98" font-size="7.0" text-anchor="end" fill="#3a3a3a" stroke="#3a3a3a" stroke-width="0.1" font-weight="normal" >0.2</text>
<line x1="279.5" y1="68.09" x2="281.3" y2="68.09" stroke="#bdbdbd" stroke-width="0.6"/>
<line x1="539.2" y1="68.09" x2="537.4000000000001" y2="68.09" stroke="#bdbdbd" stroke-width="0.6"/>
<text x="277.40" y="70.55" font-size="7.0" text-anchor="end" fill="#3a3a3a" stroke="#3a3a3a" stroke-width="0.1" font-weight="normal" >0.15</text>
<line x1="279.5" y1="86.66" x2="281.3" y2="86.66" stroke="#bdbdbd" stroke-width="0.6"/>
<line x1="539.2" y1="86.66" x2="537.4000000000001" y2="86.66" stroke="#bdbdbd" stroke-width="0.6"/>
<text x="277.40" y="89.11" font-size="7.0" text-anchor="end" fill="#3a3a3a" stroke="#3a3a3a" stroke-width="0.1" font-weight="normal" >0.1</text>
<line x1="279.5" y1="105.23" x2="281.3" y2="105.23" stroke="#bdbdbd" stroke-width="0.6"/>
<line x1="539.2" y1="105.23" x2="537.4000000000001" y2="105.23" stroke="#bdbdbd" stroke-width="0.6"/>
<text x="277.40" y="107.68" font-size="7.0" text-anchor="end" fill="#3a3a3a" stroke="#3a3a3a" stroke-width="0.1" font-weight="normal" >0.05</text>
<line x1="279.5" y1="123.79" x2="281.3" y2="123.79" stroke="#bdbdbd" stroke-width="0.6"/>
<line x1="539.2" y1="123.79" x2="537.4000000000001" y2="123.79" stroke="#bdbdbd" stroke-width="0.6"/>
<text x="277.40" y="126.24" font-size="7.0" text-anchor="end" fill="#3a3a3a" stroke="#3a3a3a" stroke-width="0.1" font-weight="normal" >0</text>
<line x1="279.5" y1="142.35" x2="281.3" y2="142.35" stroke="#bdbdbd" stroke-width="0.6"/>
<line x1="539.2" y1="142.35" x2="537.4000000000001" y2="142.35" stroke="#bdbdbd" stroke-width="0.6"/>
<text x="277.40" y="144.80" font-size="7.0" text-anchor="end" fill="#3a3a3a" stroke="#3a3a3a" stroke-width="0.1" font-weight="normal" >-0.05</text>
<line x1="279.5" y1="160.92" x2="281.3" y2="160.92" stroke="#bdbdbd" stroke-width="0.6"/>
<line x1="539.2" y1="160.92" x2="537.4000000000001" y2="160.92" stroke="#bdbdbd" stroke-width="0.6"/>
<text x="277.40" y="163.37" font-size="7.0" text-anchor="end" fill="#3a3a3a" stroke="#3a3a3a" stroke-width="0.1" font-weight="normal" >-0.1</text>
<line x1="279.5" y1="179.48" x2="281.3" y2="179.48" stroke="#bdbdbd" stroke-width="0.6"/>
<line x1="539.2" y1="179.48" x2="537.4000000000001" y2="179.48" stroke="#bdbdbd" stroke-width="0.6"/>
<text x="277.40" y="181.93" font-size="7.0" text-anchor="end" fill="#3a3a3a" stroke="#3a3a3a" stroke-width="0.1" font-weight="normal" >-0.15</text>
<text x="409.60" y="197.80" font-size="7.5" text-anchor="middle" fill="#3a3a3a" stroke="#3a3a3a" stroke-width="0.1" font-weight="normal" >Wavelength (nm)</text>
<text x="251.90" y="12.10" font-size="8.4" text-anchor="start" fill="#222" stroke="#222" stroke-width="0.18" font-weight="bold" >(b)</text>
<rect x="286.1" y="22.3" width="58.2" height="31.7" fill="#fff" stroke="#bdbdbd" stroke-width="0.7"/>
<line x1="287.3" y1="27.4" x2="298.9" y2="27.4" stroke="#3d92d4" stroke-width="1.4"/>
<text x="300.40" y="29.70" font-size="6.6" text-anchor="start" fill="#3a3a3a" stroke="#3a3a3a" stroke-width="0.1" font-weight="normal" >PC 1 (99.15%)</text>
<line x1="287.3" y1="34.9" x2="298.9" y2="34.9" stroke="#e2692f" stroke-width="1.4"/>
<text x="300.40" y="37.20" font-size="6.6" text-anchor="start" fill="#3a3a3a" stroke="#3a3a3a" stroke-width="0.1" font-weight="normal" >PC 2 (0.76%)</text>
<line x1="287.3" y1="42.4" x2="298.9" y2="42.4" stroke="#f0b732" stroke-width="1.4"/>
<text x="300.40" y="44.70" font-size="6.6" text-anchor="start" fill="#3a3a3a" stroke="#3a3a3a" stroke-width="0.1" font-weight="normal" >PC 3 (0.04%)</text>
<line x1="287.3" y1="49.9" x2="298.9" y2="49.9" stroke="#8b3e9c" stroke-width="1.4"/>
<text x="300.40" y="52.20" font-size="6.6" text-anchor="start" fill="#3a3a3a" stroke="#3a3a3a" stroke-width="0.1" font-weight="normal" >PC 4 (0.03%)</text>
<line x1="29.8" y1="324.50" x2="248.4" y2="324.50" stroke="#b4b4b4" stroke-width="0.9" stroke-dasharray="1.6 1.7"/>
<line x1="102.60" y1="223.5" x2="102.60" y2="405.3" stroke="#b4b4b4" stroke-width="0.9" stroke-dasharray="1.6 1.7"/>
<ellipse cx="101.9" cy="325.0" rx="57.8" ry="69.5" fill="none" stroke="#92cbe6" stroke-width="0.85" stroke-dasharray="2 1.4"/>
<circle cx="37.0" cy="296.0" r="1.3" fill="#22c422"/>
<circle cx="32.3" cy="313.7" r="1.3" fill="#22c422"/>
<circle cx="50.2" cy="308.2" r="1.3" fill="#22c422"/>
<circle cx="58.2" cy="303.8" r="1.3" fill="#22c422"/>
<circle cx="63.9" cy="319.7" r="1.3" fill="#22c422"/>
<circle cx="56.9" cy="327.5" r="1.3" fill="#22c422"/>
<circle cx="56.6" cy="330.7" r="1.3" fill="#22c422"/>
<circle cx="64.8" cy="332.9" r="1.3" fill="#22c422"/>
<circle cx="71.0" cy="316.6" r="1.3" fill="#22c422"/>
<circle cx="73.5" cy="315.9" r="1.3" fill="#22c422"/>
<circle cx="73.8" cy="317.5" r="1.3" fill="#22c422"/>
<circle cx="75.0" cy="308.6" r="1.3" fill="#22c422"/>
<circle cx="81.8" cy="303.8" r="1.3" fill="#22c422"/>
<circle cx="83.5" cy="294.7" r="1.3" fill="#22c422"/>
<circle cx="92.5" cy="298.3" r="1.3" fill="#22c422"/>
<circle cx="86.3" cy="310.5" r="1.3" fill="#22c422"/>
<circle cx="80.3" cy="314.3" r="1.3" fill="#22c422"/>
<circle cx="77.4" cy="326.5" r="1.3" fill="#22c422"/>
<circle cx="78.4" cy="327.5" r="1.3" fill="#22c422"/>
<circle cx="74.2" cy="329.0" r="1.3" fill="#22c422"/>
<circle cx="76.7" cy="332.0" r="1.3" fill="#22c422"/>
<circle cx="82.5" cy="331.0" r="1.3" fill="#22c422"/>
<circle cx="81.2" cy="332.6" r="1.3" fill="#22c422"/>
<circle cx="86.7" cy="324.3" r="1.3" fill="#22c422"/>
<circle cx="91.2" cy="327.1" r="1.3" fill="#22c422"/>
<circle cx="87.0" cy="336.1" r="1.3" fill="#22c422"/>
<circle cx="83.8" cy="340.2" r="1.3" fill="#22c422"/>
<circle cx="80.9" cy="340.9" r="1.3" fill="#22c422"/>
<circle cx="90.1" cy="334.8" r="1.3" fill="#22c422"/>
<circle cx="91.2" cy="336.7" r="1.3" fill="#22c422"/>
<circle cx="88.2" cy="323.3" r="1.3" fill="#22c422"/>
<circle cx="94.7" cy="328.1" r="1.3" fill="#22c422"/>
<circle cx="107.5" cy="321.8" r="1.3" fill="#22c422"/>
<circle cx="117.7" cy="325.1" r="1.3" fill="#22c422"/>
<circle cx="113.0" cy="328.3" r="1.3" fill="#22c422"/>
<circle cx="110.3" cy="330.5" r="1.3" fill="#22c422"/>
<circle cx="117.9" cy="331.1" r="1.3" fill="#22c422"/>
<circle cx="99.3" cy="335.8" r="1.3" fill="#22c422"/>
<circle cx="105.6" cy="336.4" r="1.3" fill="#22c422"/>
<circle cx="109.1" cy="336.4" r="1.3" fill="#22c422"/>
<circle cx="102.5" cy="339.0" r="1.3" fill="#22c422"/>
<circle cx="42.2" cy="353.7" r="1.3" fill="#22c422"/>
<circle cx="66.1" cy="363.0" r="1.3" fill="#22c422"/>
<circle cx="71.5" cy="370.8" r="1.3" fill="#22c422"/>
<circle cx="86.2" cy="344.0" r="1.3" fill="#22c422"/>
<circle cx="88.9" cy="343.5" r="1.3" fill="#22c422"/>
<circle cx="91.9" cy="345.1" r="1.3" fill="#22c422"/>
<circle cx="89.9" cy="347.7" r="1.3" fill="#22c422"/>
<circle cx="85.7" cy="355.8" r="1.3" fill="#22c422"/>
<circle cx="87.8" cy="355.8" r="1.3" fill="#22c422"/>
<circle cx="95.9" cy="353.2" r="1.3" fill="#22c422"/>
<circle cx="98.0" cy="354.5" r="1.3" fill="#22c422"/>
<circle cx="99.2" cy="344.8" r="1.3" fill="#22c422"/>
<circle cx="100.9" cy="356.2" r="1.3" fill="#22c422"/>
<circle cx="103.9" cy="342.6" r="1.3" fill="#22c422"/>
<circle cx="106.9" cy="342.3" r="1.3" fill="#22c422"/>
<circle cx="108.4" cy="341.8" r="1.3" fill="#22c422"/>
<circle cx="104.6" cy="345.3" r="1.3" fill="#22c422"/>
<circle cx="106.2" cy="345.9" r="1.3" fill="#22c422"/>
<circle cx="108.4" cy="345.6" r="1.3" fill="#22c422"/>
<circle cx="110.7" cy="346.3" r="1.3" fill="#22c422"/>
<circle cx="112.2" cy="350.1" r="1.3" fill="#22c422"/>
<circle cx="115.2" cy="350.9" r="1.3" fill="#22c422"/>
<circle cx="111.4" cy="352.8" r="1.3" fill="#22c422"/>
<circle cx="112.2" cy="353.4" r="1.3" fill="#22c422"/>
<circle cx="117.5" cy="353.9" r="1.3" fill="#22c422"/>
<circle cx="116.7" cy="341.3" r="1.3" fill="#22c422"/>
<circle cx="122.8" cy="342.3" r="1.3" fill="#22c422"/>
<circle cx="124.6" cy="344.8" r="1.3" fill="#22c422"/>
<circle cx="128.1" cy="347.8" r="1.3" fill="#22c422"/>
<circle cx="119.5" cy="359.9" r="1.3" fill="#22c422"/>
<circle cx="122.0" cy="364.9" r="1.3" fill="#22c422"/>
<circle cx="128.1" cy="369.5" r="1.3" fill="#22c422"/>
<circle cx="142.9" cy="378.1" r="1.3" fill="#22c422"/>
<circle cx="116.0" cy="384.9" r="1.3" fill="#22c422"/>
<circle cx="112.5" cy="388.2" r="1.3" fill="#22c422"/>
<circle cx="215.3" cy="336.8" r="1.3" fill="#22c422"/>
<path d="M88.2 295.9L89.8 298.9L86.6 298.9Z" fill="#1a1ae6"/>
<path d="M81.8 306.1L83.4 309.1L80.2 309.1Z" fill="#1a1ae6"/>
<path d="M79.3 315.1L80.9 318.1L77.7 318.1Z" fill="#1a1ae6"/>
<path d="M87.0 315.1L88.6 318.1L85.4 318.1Z" fill="#1a1ae6"/>
<path d="M88.2 313.8L89.8 316.8L86.6 316.8Z" fill="#1a1ae6"/>
<path d="M91.4 311.2L93.0 314.2L89.8 314.2Z" fill="#1a1ae6"/>
<path d="M92.7 317.0L94.3 320.0L91.1 320.0Z" fill="#1a1ae6"/>
<path d="M80.9 321.2L82.5 324.2L79.3 324.2Z" fill="#1a1ae6"/>
<path d="M91.2 322.1L92.8 325.1L89.6 325.1Z" fill="#1a1ae6"/>
<path d="M93.3 322.8L94.9 325.8L91.7 325.8Z" fill="#1a1ae6"/>
<path d="M94.6 322.5L96.2 325.5L93.0 325.5Z" fill="#1a1ae6"/>
<path d="M80.5 325.3L82.1 328.3L78.9 328.3Z" fill="#1a1ae6"/>
<path d="M93.6 326.0L95.2 329.0L92.0 329.0Z" fill="#1a1ae6"/>
<path d="M71.0 328.5L72.6 331.5L69.4 331.5Z" fill="#1a1ae6"/>
<path d="M88.2 329.2L89.8 332.2L86.6 332.2Z" fill="#1a1ae6"/>
<path d="M94.6 332.0L96.2 335.0L93.0 335.0Z" fill="#1a1ae6"/>
<path d="M106.0 299.9L107.6 302.9L104.4 302.9Z" fill="#1a1ae6"/>
<path d="M103.8 302.8L105.4 305.8L102.2 305.8Z" fill="#1a1ae6"/>
<path d="M103.5 308.2L105.1 311.2L101.9 311.2Z" fill="#1a1ae6"/>
<path d="M109.3 307.5L110.9 310.5L107.7 310.5Z" fill="#1a1ae6"/>
<path d="M99.6 314.7L101.2 317.7L98.0 317.7Z" fill="#1a1ae6"/>
<path d="M103.5 314.7L105.1 317.7L101.9 317.7Z" fill="#1a1ae6"/>
<path d="M102.1 317.7L103.7 320.7L100.5 320.7Z" fill="#1a1ae6"/>
<path d="M103.9 317.3L105.5 320.3L102.3 320.3Z" fill="#1a1ae6"/>
<path d="M100.4 320.0L102.0 323.0L98.8 323.0Z" fill="#1a1ae6"/>
<path d="M132.0 320.3L133.6 323.3L130.4 323.3Z" fill="#1a1ae6"/>
<path d="M99.3 323.5L100.9 326.5L97.7 326.5Z" fill="#1a1ae6"/>
<path d="M104.7 323.3L106.3 326.3L103.1 326.3Z" fill="#1a1ae6"/>
<path d="M111.2 324.0L112.8 327.0L109.6 327.0Z" fill="#1a1ae6"/>
<path d="M112.3 324.7L113.9 327.7L110.7 327.7Z" fill="#1a1ae6"/>
<path d="M103.9 325.9L105.5 328.9L102.3 328.9Z" fill="#1a1ae6"/>
<path d="M100.2 327.9L101.8 330.9L98.6 330.9Z" fill="#1a1ae6"/>
<path d="M106.3 328.4L107.9 331.4L104.7 331.4Z" fill="#1a1ae6"/>
<path d="M104.9 330.3L106.5 333.3L103.3 333.3Z" fill="#1a1ae6"/>
<path d="M106.7 330.5L108.3 333.5L105.1 333.5Z" fill="#1a1ae6"/>
<path d="M108.1 330.9L109.7 333.9L106.5 333.9Z" fill="#1a1ae6"/>
<path d="M113.2 330.9L114.8 333.9L111.6 333.9Z" fill="#1a1ae6"/>
<path d="M118.8 332.8L120.4 335.8L117.2 335.8Z" fill="#1a1ae6"/>
<path d="M121.4 332.1L123.0 335.1L119.8 335.1Z" fill="#1a1ae6"/>
<path d="M94.2 332.1L95.8 335.1L92.6 335.1Z" fill="#1a1ae6"/>
<path d="M95.1 333.3L96.7 336.3L93.5 336.3Z" fill="#1a1ae6"/>
<path d="M113.0 335.4L114.6 338.4L111.4 338.4Z" fill="#1a1ae6"/>
<path d="M97.4 336.1L99.0 339.1L95.8 339.1Z" fill="#1a1ae6"/>
<path d="M99.3 336.5L100.9 339.5L97.7 339.5Z" fill="#1a1ae6"/>
<path d="M109.5 336.8L111.1 339.8L107.9 339.8Z" fill="#1a1ae6"/>
<path d="M121.6 337.2L123.2 340.2L120.0 340.2Z" fill="#1a1ae6"/>
<path d="M139.7 335.4L141.3 338.4L138.1 338.4Z" fill="#1a1ae6"/>
<path d="M106.2 345.0L107.8 348.0L104.6 348.0Z" fill="#1a1ae6"/>
<path d="M116.0 346.0L117.6 349.0L114.4 349.0Z" fill="#1a1ae6"/>
<path d="M124.6 349.5L126.2 352.5L123.0 352.5Z" fill="#1a1ae6"/>
<path d="M128.1 344.5L129.7 347.5L126.5 347.5Z" fill="#1a1ae6"/>
<path d="M110.4 356.6L112.0 359.6L108.8 359.6Z" fill="#1a1ae6"/>
<path d="M118.2 368.7L119.8 371.7L116.6 371.7Z" fill="#1a1ae6"/>
<path d="M137.9 364.9L139.5 367.9L136.3 367.9Z" fill="#1a1ae6"/>
<path d="M118.5 337.7L120.1 340.7L116.9 340.7Z" fill="#1a1ae6"/>
<path d="M98.6 238.5L100.2 241.5L97.0 241.5Z" fill="#1a1ae6"/>
<path d="M112.7 245.5L114.3 248.5L111.1 248.5Z" fill="#1a1ae6"/>
<path d="M101.9 251.0L103.5 254.0L100.3 254.0Z" fill="#1a1ae6"/>
<path d="M142.4 253.3L144.0 256.3L140.8 256.3Z" fill="#1a1ae6"/>
<path d="M107.4 256.6L109.0 259.6L105.8 259.6Z" fill="#1a1ae6"/>
<path d="M105.0 259.8L106.6 262.8L103.4 262.8Z" fill="#1a1ae6"/>
<path d="M108.9 261.6L110.5 264.6L107.3 264.6Z" fill="#1a1ae6"/>
<path d="M109.9 262.4L111.5 265.4L108.3 265.4Z" fill="#1a1ae6"/>
<path d="M111.9 263.1L113.5 266.1L110.3 266.1Z" fill="#1a1ae6"/>
<path d="M112.5 262.1L114.1 265.1L110.9 265.1Z" fill="#1a1ae6"/>
<path d="M90.3 269.5L91.9 272.5L88.7 272.5Z" fill="#1a1ae6"/>
<path d="M119.8 271.4L121.4 274.4L118.2 274.4Z" fill="#1a1ae6"/>
<path d="M130.6 275.2L132.2 278.2L129.0 278.2Z" fill="#1a1ae6"/>
<path d="M105.4 276.3L107.0 279.3L103.8 279.3Z" fill="#1a1ae6"/>
<path d="M102.4 278.2L104.0 281.2L100.8 281.2Z" fill="#1a1ae6"/>
<path d="M114.5 279.8L116.1 282.8L112.9 282.8Z" fill="#1a1ae6"/>
<path d="M116.7 280.5L118.3 283.5L115.1 283.5Z" fill="#1a1ae6"/>
<path d="M113.7 281.3L115.3 284.3L112.1 284.3Z" fill="#1a1ae6"/>
<path d="M103.1 288.4L104.7 291.4L101.5 291.4Z" fill="#1a1ae6"/>
<path d="M140.6 288.8L142.2 291.8L139.0 291.8Z" fill="#1a1ae6"/>
<path d="M130.6 291.8L132.2 294.8L129.0 294.8Z" fill="#1a1ae6"/>
<path d="M124.6 292.9L126.2 295.9L123.0 295.9Z" fill="#1a1ae6"/>
<path d="M119.5 296.1L121.1 299.1L117.9 299.1Z" fill="#1a1ae6"/>
<path d="M156.4 274.1L158.0 277.1L154.8 277.1Z" fill="#1a1ae6"/>
<path d="M126.5 233.6L128.1 236.6L124.9 236.6Z" fill="#1a1ae6"/>
<path d="M157.8 331.1L159.4 334.1L156.2 334.1Z" fill="#1a1ae6"/>
<path d="M205.9 337.5L207.5 340.5L204.3 340.5Z" fill="#1a1ae6"/>
<path d="M91.6 311.1L93.2 314.1L90.0 314.1Z" fill="#1a1ae6"/>
<path d="M86.7 315.1L88.3 318.1L85.1 318.1Z" fill="#1a1ae6"/>
<path d="M92.8 317.2L94.4 320.2L91.2 320.2Z" fill="#1a1ae6"/>
<path d="M99.6 314.5L101.2 317.5L98.0 317.5Z" fill="#1a1ae6"/>
<path d="M100.2 319.8L101.8 322.8L98.6 322.8Z" fill="#1a1ae6"/>
<path d="M106.3 328.8L107.9 331.8L104.7 331.8Z" fill="#1a1ae6"/>
<path d="M104.6 330.6L106.2 333.6L103.0 333.6Z" fill="#1a1ae6"/>
<path d="M88.1 329.2L89.7 332.2L86.5 332.2Z" fill="#1a1ae6"/>
<path d="M70.9 328.3L72.5 331.3L69.3 331.3Z" fill="#1a1ae6"/>
<path d="M100.0 337.8L101.6 340.8L98.4 340.8Z" fill="#1a1ae6"/>
<rect x="29.8" y="223.5" width="218.60" height="181.80" fill="none" stroke="#bdbdbd" stroke-width="1.1"/>
<line x1="29.73" y1="405.3" x2="29.73" y2="403.5" stroke="#bdbdbd" stroke-width="0.6"/>
<line x1="29.73" y1="223.5" x2="29.73" y2="225.3" stroke="#bdbdbd" stroke-width="0.6"/>
<text x="29.73" y="413.90" font-size="6.5" text-anchor="middle" fill="#3a3a3a" stroke="#3a3a3a" stroke-width="0.1" font-weight="normal" >-10</text>
<line x1="66.16" y1="405.3" x2="66.16" y2="403.5" stroke="#bdbdbd" stroke-width="0.6"/>
<line x1="66.16" y1="223.5" x2="66.16" y2="225.3" stroke="#bdbdbd" stroke-width="0.6"/>
<text x="66.16" y="413.90" font-size="6.5" text-anchor="middle" fill="#3a3a3a" stroke="#3a3a3a" stroke-width="0.1" font-weight="normal" >-5</text>
<line x1="102.60" y1="405.3" x2="102.60" y2="403.5" stroke="#bdbdbd" stroke-width="0.6"/>
<line x1="102.60" y1="223.5" x2="102.60" y2="225.3" stroke="#bdbdbd" stroke-width="0.6"/>
<text x="102.60" y="413.90" font-size="6.5" text-anchor="middle" fill="#3a3a3a" stroke="#3a3a3a" stroke-width="0.1" font-weight="normal" >0</text>
<line x1="139.03" y1="405.3" x2="139.03" y2="403.5" stroke="#bdbdbd" stroke-width="0.6"/>
<line x1="139.03" y1="223.5" x2="139.03" y2="225.3" stroke="#bdbdbd" stroke-width="0.6"/>
<text x="139.03" y="413.90" font-size="6.5" text-anchor="middle" fill="#3a3a3a" stroke="#3a3a3a" stroke-width="0.1" font-weight="normal" >5</text>
<line x1="175.47" y1="405.3" x2="175.47" y2="403.5" stroke="#bdbdbd" stroke-width="0.6"/>
<line x1="175.47" y1="223.5" x2="175.47" y2="225.3" stroke="#bdbdbd" stroke-width="0.6"/>
<text x="175.47" y="413.90" font-size="6.5" text-anchor="middle" fill="#3a3a3a" stroke="#3a3a3a" stroke-width="0.1" font-weight="normal" >10</text>
<line x1="211.90" y1="405.3" x2="211.90" y2="403.5" stroke="#bdbdbd" stroke-width="0.6"/>
<line x1="211.90" y1="223.5" x2="211.90" y2="225.3" stroke="#bdbdbd" stroke-width="0.6"/>
<text x="211.90" y="413.90" font-size="6.5" text-anchor="middle" fill="#3a3a3a" stroke="#3a3a3a" stroke-width="0.1" font-weight="normal" >15</text>
<line x1="248.34" y1="405.3" x2="248.34" y2="403.5" stroke="#bdbdbd" stroke-width="0.6"/>
<line x1="248.34" y1="223.5" x2="248.34" y2="225.3" stroke="#bdbdbd" stroke-width="0.6"/>
<text x="248.34" y="413.90" font-size="6.5" text-anchor="middle" fill="#3a3a3a" stroke="#3a3a3a" stroke-width="0.1" font-weight="normal" >20</text>
<line x1="29.8" y1="405.30" x2="31.6" y2="405.30" stroke="#bdbdbd" stroke-width="0.6"/>
<line x1="248.4" y1="405.30" x2="246.6" y2="405.30" stroke="#bdbdbd" stroke-width="0.6"/>
<text x="27.20" y="407.57" font-size="6.5" text-anchor="end" fill="#3a3a3a" stroke="#3a3a3a" stroke-width="0.1" font-weight="normal" >-8</text>
<line x1="29.8" y1="385.10" x2="31.6" y2="385.10" stroke="#bdbdbd" stroke-width="0.6"/>
<line x1="248.4" y1="385.10" x2="246.6" y2="385.10" stroke="#bdbdbd" stroke-width="0.6"/>
<text x="27.20" y="387.38" font-size="6.5" text-anchor="end" fill="#3a3a3a" stroke="#3a3a3a" stroke-width="0.1" font-weight="normal" >-6</text>
<line x1="29.8" y1="364.90" x2="31.6" y2="364.90" stroke="#bdbdbd" stroke-width="0.6"/>
<line x1="248.4" y1="364.90" x2="246.6" y2="364.90" stroke="#bdbdbd" stroke-width="0.6"/>
<text x="27.20" y="367.17" font-size="6.5" text-anchor="end" fill="#3a3a3a" stroke="#3a3a3a" stroke-width="0.1" font-weight="normal" >-4</text>
<line x1="29.8" y1="344.70" x2="31.6" y2="344.70" stroke="#bdbdbd" stroke-width="0.6"/>
<line x1="248.4" y1="344.70" x2="246.6" y2="344.70" stroke="#bdbdbd" stroke-width="0.6"/>
<text x="27.20" y="346.97" font-size="6.5" text-anchor="end" fill="#3a3a3a" stroke="#3a3a3a" stroke-width="0.1" font-weight="normal" >-2</text>
<line x1="29.8" y1="324.50" x2="31.6" y2="324.50" stroke="#bdbdbd" stroke-width="0.6"/>
<line x1="248.4" y1="324.50" x2="246.6" y2="324.50" stroke="#bdbdbd" stroke-width="0.6"/>
<text x="27.20" y="326.77" font-size="6.5" text-anchor="end" fill="#3a3a3a" stroke="#3a3a3a" stroke-width="0.1" font-weight="normal" >0</text>
<line x1="29.8" y1="304.30" x2="31.6" y2="304.30" stroke="#bdbdbd" stroke-width="0.6"/>
<line x1="248.4" y1="304.30" x2="246.6" y2="304.30" stroke="#bdbdbd" stroke-width="0.6"/>
<text x="27.20" y="306.57" font-size="6.5" text-anchor="end" fill="#3a3a3a" stroke="#3a3a3a" stroke-width="0.1" font-weight="normal" >2</text>
<line x1="29.8" y1="284.10" x2="31.6" y2="284.10" stroke="#bdbdbd" stroke-width="0.6"/>
<line x1="248.4" y1="284.10" x2="246.6" y2="284.10" stroke="#bdbdbd" stroke-width="0.6"/>
<text x="27.20" y="286.38" font-size="6.5" text-anchor="end" fill="#3a3a3a" stroke="#3a3a3a" stroke-width="0.1" font-weight="normal" >4</text>
<line x1="29.8" y1="263.90" x2="31.6" y2="263.90" stroke="#bdbdbd" stroke-width="0.6"/>
<line x1="248.4" y1="263.90" x2="246.6" y2="263.90" stroke="#bdbdbd" stroke-width="0.6"/>
<text x="27.20" y="266.17" font-size="6.5" text-anchor="end" fill="#3a3a3a" stroke="#3a3a3a" stroke-width="0.1" font-weight="normal" >6</text>
<line x1="29.8" y1="243.70" x2="31.6" y2="243.70" stroke="#bdbdbd" stroke-width="0.6"/>
<line x1="248.4" y1="243.70" x2="246.6" y2="243.70" stroke="#bdbdbd" stroke-width="0.6"/>
<text x="27.20" y="245.97" font-size="6.5" text-anchor="end" fill="#3a3a3a" stroke="#3a3a3a" stroke-width="0.1" font-weight="normal" >8</text>
<line x1="29.8" y1="223.50" x2="31.6" y2="223.50" stroke="#bdbdbd" stroke-width="0.6"/>
<line x1="248.4" y1="223.50" x2="246.6" y2="223.50" stroke="#bdbdbd" stroke-width="0.6"/>
<text x="27.20" y="225.78" font-size="6.5" text-anchor="end" fill="#3a3a3a" stroke="#3a3a3a" stroke-width="0.1" font-weight="normal" >10</text>
<text x="139.00" y="423.10" font-size="7.5" text-anchor="middle" fill="#3a3a3a" stroke="#3a3a3a" stroke-width="0.1" font-weight="normal" >Scores on PC 3 (0.04%)</text>
<text x="0.00" y="0.00" font-size="7.5" text-anchor="middle" fill="#3a3a3a" stroke="#3a3a3a" stroke-width="0.1" font-weight="normal" transform="translate(17 314.4) rotate(-90)">Scores on PC 4 (0.03%)</text>
<text x="5.20" y="230.50" font-size="8.4" text-anchor="start" fill="#222" stroke="#222" stroke-width="0.18" font-weight="bold" >(c)</text>
<rect x="167.3" y="229.5" width="76.9" height="21.8" fill="#fff" stroke="#bdbdbd" stroke-width="0.7"/>
<circle cx="174.9" cy="233.3" r="1.3" fill="#22c422"/>
<path d="M174.9 238.7L176.5 241.7L173.3 241.7Z" fill="#1a1ae6"/>
<line x1="168.2" y1="247.8" x2="180" y2="247.8" stroke="#8cc6e0" stroke-width="0.8" stroke-dasharray="1.8 1.4"/>
<text x="181.80" y="235.40" font-size="6.1" text-anchor="start" fill="#3a3a3a" stroke="#3a3a3a" stroke-width="0.1" font-weight="normal" >before each sample</text>
<text x="181.80" y="242.60" font-size="6.1" text-anchor="start" fill="#3a3a3a" stroke="#3a3a3a" stroke-width="0.1" font-weight="normal" >before each session</text>
<text x="181.80" y="249.90" font-size="6.1" text-anchor="start" fill="#3a3a3a" stroke="#3a3a3a" stroke-width="0.1" font-weight="normal" >95% Confidence Level</text>
<line x1="306.6" y1="323.80" x2="529.3" y2="323.80" stroke="#b4b4b4" stroke-width="0.9" stroke-dasharray="1.6 1.7"/>
<line x1="373.70" y1="222.4" x2="373.70" y2="405.0" stroke="#b4b4b4" stroke-width="0.9" stroke-dasharray="1.6 1.7"/>
<ellipse cx="373.8" cy="323.9" rx="61" ry="69.8" fill="none" stroke="#92cbe6" stroke-width="0.85" stroke-dasharray="2 1.4"/>
<circle cx="365.5" cy="308.7" r="1.45" fill="#f8dca0" stroke="#e89a60" stroke-width="0.8"/>
<circle cx="370.3" cy="314.5" r="1.45" fill="#f8dca0" stroke="#e89a60" stroke-width="0.8"/>
<circle cx="348.5" cy="318.9" r="1.45" fill="#f8dca0" stroke="#e89a60" stroke-width="0.8"/>
<circle cx="361.2" cy="323.1" r="1.45" fill="#f8dca0" stroke="#e89a60" stroke-width="0.8"/>
<circle cx="365.7" cy="325.0" r="1.45" fill="#f8dca0" stroke="#e89a60" stroke-width="0.8"/>
<circle cx="367.5" cy="326.4" r="1.45" fill="#f8dca0" stroke="#e89a60" stroke-width="0.8"/>
<circle cx="370.5" cy="323.8" r="1.45" fill="#f8dca0" stroke="#e89a60" stroke-width="0.8"/>
<circle cx="358.7" cy="327.1" r="1.45" fill="#f8dca0" stroke="#e89a60" stroke-width="0.8"/>
<circle cx="378.2" cy="322.2" r="1.45" fill="#f8dca0" stroke="#e89a60" stroke-width="0.8"/>
<circle cx="347.1" cy="331.2" r="1.45" fill="#f8dca0" stroke="#e89a60" stroke-width="0.8"/>
<circle cx="361.2" cy="332.9" r="1.45" fill="#f8dca0" stroke="#e89a60" stroke-width="0.8"/>
<circle cx="371.1" cy="333.3" r="1.45" fill="#f8dca0" stroke="#e89a60" stroke-width="0.8"/>
<circle cx="363.3" cy="337.5" r="1.45" fill="#f8dca0" stroke="#e89a60" stroke-width="0.8"/>
<circle cx="368.9" cy="337.1" r="1.45" fill="#f8dca0" stroke="#e89a60" stroke-width="0.8"/>
<circle cx="355.3" cy="339.6" r="1.45" fill="#f8dca0" stroke="#e89a60" stroke-width="0.8"/>
<circle cx="358.0" cy="339.2" r="1.45" fill="#f8dca0" stroke="#e89a60" stroke-width="0.8"/>
<circle cx="359.6" cy="339.2" r="1.45" fill="#f8dca0" stroke="#e89a60" stroke-width="0.8"/>
<circle cx="369.3" cy="346.7" r="1.45" fill="#f8dca0" stroke="#e89a60" stroke-width="0.8"/>
<circle cx="354.6" cy="351.2" r="1.45" fill="#f8dca0" stroke="#e89a60" stroke-width="0.8"/>
<circle cx="407.1" cy="300.9" r="1.45" fill="#f8dca0" stroke="#e89a60" stroke-width="0.8"/>
<circle cx="387.0" cy="316.2" r="1.45" fill="#f8dca0" stroke="#e89a60" stroke-width="0.8"/>
<circle cx="389.2" cy="327.1" r="1.45" fill="#f8dca0" stroke="#e89a60" stroke-width="0.8"/>
<circle cx="387.7" cy="336.3" r="1.45" fill="#f8dca0" stroke="#e89a60" stroke-width="0.8"/>
<circle cx="395.6" cy="336.7" r="1.45" fill="#f8dca0" stroke="#e89a60" stroke-width="0.8"/>
<circle cx="406.6" cy="332.5" r="1.45" fill="#f8dca0" stroke="#e89a60" stroke-width="0.8"/>
<circle cx="432.8" cy="357.8" r="1.45" fill="#f8dca0" stroke="#e89a60" stroke-width="0.8"/>
<circle cx="438.5" cy="369.8" r="1.45" fill="#f8dca0" stroke="#e89a60" stroke-width="0.8"/>
<circle cx="375.3" cy="238.9" r="1.3" fill="#f020f0"/>
<circle cx="386.5" cy="246.2" r="1.3" fill="#f020f0"/>
<circle cx="372.5" cy="251.7" r="1.3" fill="#f020f0"/>
<circle cx="377.4" cy="254.2" r="1.3" fill="#f020f0"/>
<circle cx="370.7" cy="257.3" r="1.3" fill="#f020f0"/>
<circle cx="394.4" cy="260.5" r="1.3" fill="#f020f0"/>
<circle cx="357.6" cy="264.3" r="1.3" fill="#f020f0"/>
<circle cx="364.9" cy="264.6" r="1.3" fill="#f020f0"/>
<circle cx="366.5" cy="262.9" r="1.3" fill="#f020f0"/>
<circle cx="369.0" cy="262.2" r="1.3" fill="#f020f0"/>
<circle cx="370.0" cy="263.6" r="1.3" fill="#f020f0"/>
<circle cx="367.7" cy="270.3" r="1.3" fill="#f020f0"/>
<circle cx="377.4" cy="272.4" r="1.3" fill="#f020f0"/>
<circle cx="390.7" cy="276.4" r="1.3" fill="#f020f0"/>
<circle cx="399.0" cy="275.2" r="1.3" fill="#f020f0"/>
<circle cx="357.9" cy="277.1" r="1.3" fill="#f020f0"/>
<circle cx="353.0" cy="279.3" r="1.3" fill="#f020f0"/>
<circle cx="351.6" cy="281.4" r="1.3" fill="#f020f0"/>
<circle cx="357.6" cy="281.3" r="1.3" fill="#f020f0"/>
<circle cx="358.2" cy="282.1" r="1.3" fill="#f020f0"/>
<circle cx="361.4" cy="280.7" r="1.3" fill="#f020f0"/>
<circle cx="363.2" cy="290.1" r="1.3" fill="#f020f0"/>
<circle cx="374.3" cy="293.3" r="1.3" fill="#f020f0"/>
<circle cx="388.6" cy="293.8" r="1.3" fill="#f020f0"/>
<circle cx="400.7" cy="234.5" r="1.3" fill="#f020f0"/>
<circle cx="351.7" cy="297.2" r="1.3" fill="#f020f0"/>
<circle cx="358.2" cy="303.9" r="1.3" fill="#f020f0"/>
<circle cx="388.7" cy="296.7" r="1.3" fill="#f020f0"/>
<circle cx="407.9" cy="332.2" r="1.3" fill="#f020f0"/>
<path d="M359.6 314.3L361.3 311.1L357.9 311.1Z" fill="#1fe3f5"/>
<path d="M358.7 317.1L360.4 313.9L357.0 313.9Z" fill="#1fe3f5"/>
<path d="M357.3 320.8L359.0 317.6L355.6 317.6Z" fill="#1fe3f5"/>
<path d="M365.2 323.2L366.9 320.0L363.5 320.0Z" fill="#1fe3f5"/>
<path d="M352.2 326.4L353.9 323.2L350.5 323.2Z" fill="#1fe3f5"/>
<path d="M357.3 326.9L359.0 323.7L355.6 323.7Z" fill="#1fe3f5"/>
<path d="M359.3 326.9L361.0 323.7L357.6 323.7Z" fill="#1fe3f5"/>
<path d="M345.7 328.3L347.4 325.1L344.0 325.1Z" fill="#1fe3f5"/>
<path d="M371.7 329.0L373.4 325.8L370.0 325.8Z" fill="#1fe3f5"/>
<path d="M344.8 332.0L346.5 328.8L343.1 328.8Z" fill="#1fe3f5"/>
<path d="M373.1 332.5L374.8 329.3L371.4 329.3Z" fill="#1fe3f5"/>
<path d="M367.1 333.9L368.8 330.7L365.4 330.7Z" fill="#1fe3f5"/>
<path d="M356.4 334.6L358.1 331.4L354.7 331.4Z" fill="#1fe3f5"/>
<path d="M346.0 336.5L347.7 333.3L344.3 333.3Z" fill="#1fe3f5"/>
<path d="M381.0 317.9L382.7 314.7L379.3 314.7Z" fill="#1fe3f5"/>
<path d="M375.9 323.6L377.6 320.4L374.2 320.4Z" fill="#1fe3f5"/>
<path d="M368.9 330.6L370.6 327.4L367.2 327.4Z" fill="#1fe3f5"/>
<path d="M361.0 339.0L362.7 335.8L359.3 335.8Z" fill="#1fe3f5"/>
<path d="M367.9 291.6L369.6 288.4L366.2 288.4Z" fill="#1fe3f5"/>
<path d="M376.5 368.1L378.2 364.9L374.8 364.9Z" fill="#1fe3f5"/>
<path d="M390.0 320.3L391.7 317.1L388.3 317.1Z" fill="#1fe3f5"/>
<path d="M413.5 331.6L415.2 328.4L411.8 328.4Z" fill="#1fe3f5"/>
<path d="M390.0 337.3L391.7 334.1L388.3 334.1Z" fill="#1fe3f5"/>
<path d="M469.1 309.3L470.8 306.1L467.4 306.1Z" fill="#1fe3f5"/>
<rect x="361.8" y="301.9" width="2.2" height="2.2" fill="#22bb22"/>
<rect x="367.9" y="301.9" width="2.2" height="2.2" fill="#22bb22"/>
<rect x="357.6" y="306.9" width="2.2" height="2.2" fill="#22bb22"/>
<rect x="363.2" y="312.7" width="2.2" height="2.2" fill="#22bb22"/>
<rect x="339.3" y="320.6" width="2.2" height="2.2" fill="#22bb22"/>
<rect x="381.3" y="313.7" width="2.2" height="2.2" fill="#22bb22"/>
<rect x="360.4" y="326.7" width="2.2" height="2.2" fill="#22bb22"/>
<rect x="353.0" y="329.5" width="2.2" height="2.2" fill="#22bb22"/>
<rect x="351.1" y="331.8" width="2.2" height="2.2" fill="#22bb22"/>
<rect x="352.5" y="332.2" width="2.2" height="2.2" fill="#22bb22"/>
<rect x="338.1" y="336.4" width="2.2" height="2.2" fill="#22bb22"/>
<rect x="339.7" y="337.2" width="2.2" height="2.2" fill="#22bb22"/>
<rect x="334.8" y="340.1" width="2.2" height="2.2" fill="#22bb22"/>
<rect x="360.9" y="341.1" width="2.2" height="2.2" fill="#22bb22"/>
<rect x="359.5" y="336.4" width="2.2" height="2.2" fill="#22bb22"/>
<rect x="367.4" y="338.5" width="2.2" height="2.2" fill="#22bb22"/>
<rect x="381.5" y="330.9" width="2.2" height="2.2" fill="#22bb22"/>
<rect x="355.3" y="343.4" width="2.2" height="2.2" fill="#22bb22"/>
<rect x="347.0" y="343.7" width="2.2" height="2.2" fill="#22bb22"/>
<rect x="347.3" y="332.9" width="2.2" height="2.2" fill="#22bb22"/>
<rect x="405.6" y="352.1" width="2.2" height="2.2" fill="#22bb22"/>
<rect x="427.3" y="294.3" width="2.2" height="2.2" fill="#22bb22"/>
<rect x="390.4" y="311.9" width="2.2" height="2.2" fill="#22bb22"/>
<rect x="410.2" y="324.5" width="2.2" height="2.2" fill="#22bb22"/>
<rect x="460.9" y="292.7" width="2.2" height="2.2" fill="#22bb22"/>
<rect x="448.1" y="306.3" width="2.2" height="2.2" fill="#22bb22"/>
<rect x="511.0" y="338.0" width="2.2" height="2.2" fill="#22bb22"/>
<rect x="440.4" y="369.4" width="2.2" height="2.2" fill="#22bb22"/>
<path d="M369.4 315.1L371.0 318.1L367.8 318.1Z" fill="#1a1ad8"/>
<path d="M346.2 322.7L347.8 325.7L344.6 325.7Z" fill="#1a1ad8"/>
<path d="M356.8 325.7L358.4 328.7L355.2 328.7Z" fill="#1a1ad8"/>
<path d="M359.3 327.8L360.9 330.8L357.7 330.8Z" fill="#1a1ad8"/>
<path d="M364.7 328.8L366.3 331.8L363.1 331.8Z" fill="#1a1ad8"/>
<path d="M363.8 329.7L365.4 332.7L362.2 332.7Z" fill="#1a1ad8"/>
<path d="M369.9 326.2L371.5 329.2L368.3 329.2Z" fill="#1a1ad8"/>
<path d="M362.7 333.4L364.3 336.4L361.1 336.4Z" fill="#1a1ad8"/>
<path d="M369.9 333.4L371.5 336.4L368.3 336.4Z" fill="#1a1ad8"/>
<path d="M384.7 314.4L386.3 317.4L383.1 317.4Z" fill="#1a1ad8"/>
<path d="M372.8 348.0L374.4 351.0L371.2 351.0Z" fill="#1a1ad8"/>
<path d="M376.0 353.8L377.6 356.8L374.4 356.8Z" fill="#1a1ad8"/>
<path d="M383.5 350.8L385.1 353.8L381.9 353.8Z" fill="#1a1ad8"/>
<path d="M387.4 350.1L389.0 353.1L385.8 353.1Z" fill="#1a1ad8"/>
<path d="M387.4 352.1L389.0 355.1L385.8 355.1Z" fill="#1a1ad8"/>
<path d="M393.7 357.4L395.3 360.4L392.1 360.4Z" fill="#1a1ad8"/>
<path d="M407.6 353.3L409.2 356.3L406.0 356.3Z" fill="#1a1ad8"/>
<path d="M360.9 362.6L362.5 365.6L359.3 365.6Z" fill="#1a1ad8"/>
<path d="M374.6 366.8L376.2 369.8L373.0 369.8Z" fill="#1a1ad8"/>
<path d="M374.6 375.9L376.2 378.9L373.0 378.9Z" fill="#1a1ad8"/>
<path d="M386.3 382.5L387.9 385.5L384.7 385.5Z" fill="#1a1ad8"/>
<path d="M381.1 385.9L382.7 388.9L379.5 388.9Z" fill="#1a1ad8"/>
<path d="M397.9 321.7L399.5 324.7L396.3 324.7Z" fill="#1a1ad8"/>
<path d="M395.4 329.8L397.0 332.8L393.8 332.8Z" fill="#1a1ad8"/>
<path d="M427.3 334.3L428.9 337.3L425.7 337.3Z" fill="#1a1ad8"/>
<path d="M363.3 316.9L364.7 318.9L363.3 320.8L361.9 318.9Z" fill="#e8211f"/>
<path d="M358.7 319.1L360.1 321.0L358.7 322.9L357.3 321.0Z" fill="#e8211f"/>
<path d="M353.6 323.1L355.0 325.0L353.6 326.9L352.2 325.0Z" fill="#e8211f"/>
<path d="M349.9 327.9L351.3 329.9L349.9 331.8L348.5 329.9Z" fill="#e8211f"/>
<path d="M355.3 327.9L356.7 329.9L355.3 331.8L353.9 329.9Z" fill="#e8211f"/>
<path d="M375.9 330.4L377.3 332.4L375.9 334.3L374.5 332.4Z" fill="#e8211f"/>
<path d="M380.7 328.2L382.1 330.1L380.7 332.1L379.3 330.1Z" fill="#e8211f"/>
<path d="M341.5 338.9L342.9 340.8L341.5 342.8L340.1 340.8Z" fill="#e8211f"/>
<path d="M350.3 339.8L351.7 341.7L350.3 343.6L348.9 341.7Z" fill="#e8211f"/>
<path d="M357.3 339.2L358.7 341.1L357.3 343.1L355.9 341.1Z" fill="#e8211f"/>
<path d="M346.2 342.1L347.6 344.0L346.2 345.9L344.8 344.0Z" fill="#e8211f"/>
<path d="M376.4 338.2L377.8 340.1L376.4 342.1L375.0 340.1Z" fill="#e8211f"/>
<path d="M376.4 341.2L377.8 343.1L376.4 345.1L375.0 343.1Z" fill="#e8211f"/>
<path d="M382.4 342.1L383.8 344.0L382.4 345.9L381.0 344.0Z" fill="#e8211f"/>
<path d="M335.9 340.6L337.3 342.5L335.9 344.4L334.5 342.5Z" fill="#e8211f"/>
<path d="M348.3 345.7L349.7 347.6L348.3 349.6L346.9 347.6Z" fill="#e8211f"/>
<path d="M345.3 348.9L346.7 350.8L345.3 352.8L343.9 350.8Z" fill="#e8211f"/>
<path d="M356.5 344.4L357.9 346.3L356.5 348.2L355.1 346.3Z" fill="#e8211f"/>
<path d="M367.2 345.8L368.6 347.7L367.2 349.6L365.8 347.7Z" fill="#e8211f"/>
<path d="M365.4 352.2L366.8 354.2L365.4 356.1L364.0 354.2Z" fill="#e8211f"/>
<path d="M387.7 342.2L389.1 344.2L387.7 346.1L386.3 344.2Z" fill="#e8211f"/>
<path d="M389.9 340.9L391.3 342.8L389.9 344.8L388.5 342.8Z" fill="#e8211f"/>
<path d="M384.6 351.2L386.0 353.2L384.6 355.1L383.2 353.2Z" fill="#e8211f"/>
<path d="M388.1 353.7L389.5 355.6L388.1 357.6L386.7 355.6Z" fill="#e8211f"/>
<path d="M385.3 360.7L386.7 362.6L385.3 364.6L383.9 362.6Z" fill="#e8211f"/>
<path d="M380.6 295.4L382.0 297.4L380.6 299.3L379.2 297.4Z" fill="#e8211f"/>
<path d="M394.7 307.9L396.1 309.8L394.7 311.8L393.3 309.8Z" fill="#e8211f"/>
<path d="M392.2 325.2L393.6 327.1L392.2 329.1L390.8 327.1Z" fill="#e8211f"/>
<rect x="306.6" y="222.4" width="222.70" height="182.60" fill="none" stroke="#bdbdbd" stroke-width="1.1"/>
<line x1="311.58" y1="405.0" x2="311.58" y2="403.2" stroke="#bdbdbd" stroke-width="0.6"/>
<line x1="311.58" y1="222.4" x2="311.58" y2="224.20000000000002" stroke="#bdbdbd" stroke-width="0.6"/>
<text x="311.58" y="414.00" font-size="6.5" text-anchor="middle" fill="#3a3a3a" stroke="#3a3a3a" stroke-width="0.1" font-weight="normal" >-400</text>
<line x1="342.64" y1="405.0" x2="342.64" y2="403.2" stroke="#bdbdbd" stroke-width="0.6"/>
<line x1="342.64" y1="222.4" x2="342.64" y2="224.20000000000002" stroke="#bdbdbd" stroke-width="0.6"/>
<text x="342.64" y="414.00" font-size="6.5" text-anchor="middle" fill="#3a3a3a" stroke="#3a3a3a" stroke-width="0.1" font-weight="normal" >-200</text>
<line x1="373.70" y1="405.0" x2="373.70" y2="403.2" stroke="#bdbdbd" stroke-width="0.6"/>
<line x1="373.70" y1="222.4" x2="373.70" y2="224.20000000000002" stroke="#bdbdbd" stroke-width="0.6"/>
<text x="373.70" y="414.00" font-size="6.5" text-anchor="middle" fill="#3a3a3a" stroke="#3a3a3a" stroke-width="0.1" font-weight="normal" >0</text>
<line x1="404.76" y1="405.0" x2="404.76" y2="403.2" stroke="#bdbdbd" stroke-width="0.6"/>
<line x1="404.76" y1="222.4" x2="404.76" y2="224.20000000000002" stroke="#bdbdbd" stroke-width="0.6"/>
<text x="404.76" y="414.00" font-size="6.5" text-anchor="middle" fill="#3a3a3a" stroke="#3a3a3a" stroke-width="0.1" font-weight="normal" >200</text>
<line x1="435.82" y1="405.0" x2="435.82" y2="403.2" stroke="#bdbdbd" stroke-width="0.6"/>
<line x1="435.82" y1="222.4" x2="435.82" y2="224.20000000000002" stroke="#bdbdbd" stroke-width="0.6"/>
<text x="435.82" y="414.00" font-size="6.5" text-anchor="middle" fill="#3a3a3a" stroke="#3a3a3a" stroke-width="0.1" font-weight="normal" >400</text>
<line x1="466.88" y1="405.0" x2="466.88" y2="403.2" stroke="#bdbdbd" stroke-width="0.6"/>
<line x1="466.88" y1="222.4" x2="466.88" y2="224.20000000000002" stroke="#bdbdbd" stroke-width="0.6"/>
<text x="466.88" y="414.00" font-size="6.5" text-anchor="middle" fill="#3a3a3a" stroke="#3a3a3a" stroke-width="0.1" font-weight="normal" >600</text>
<line x1="497.94" y1="405.0" x2="497.94" y2="403.2" stroke="#bdbdbd" stroke-width="0.6"/>
<line x1="497.94" y1="222.4" x2="497.94" y2="224.20000000000002" stroke="#bdbdbd" stroke-width="0.6"/>
<text x="497.94" y="414.00" font-size="6.5" text-anchor="middle" fill="#3a3a3a" stroke="#3a3a3a" stroke-width="0.1" font-weight="normal" >800</text>
<line x1="529.00" y1="405.0" x2="529.00" y2="403.2" stroke="#bdbdbd" stroke-width="0.6"/>
<line x1="529.00" y1="222.4" x2="529.00" y2="224.20000000000002" stroke="#bdbdbd" stroke-width="0.6"/>
<text x="529.00" y="414.00" font-size="6.5" text-anchor="middle" fill="#3a3a3a" stroke="#3a3a3a" stroke-width="0.1" font-weight="normal" >1000</text>
<line x1="306.6" y1="405.00" x2="308.40000000000003" y2="405.00" stroke="#bdbdbd" stroke-width="0.6"/>
<line x1="529.3" y1="405.00" x2="527.5" y2="405.00" stroke="#bdbdbd" stroke-width="0.6"/>
<text x="304.00" y="407.27" font-size="6.5" text-anchor="end" fill="#3a3a3a" stroke="#3a3a3a" stroke-width="0.1" font-weight="normal" >-8</text>
<line x1="306.6" y1="384.70" x2="308.40000000000003" y2="384.70" stroke="#bdbdbd" stroke-width="0.6"/>
<line x1="529.3" y1="384.70" x2="527.5" y2="384.70" stroke="#bdbdbd" stroke-width="0.6"/>
<text x="304.00" y="386.98" font-size="6.5" text-anchor="end" fill="#3a3a3a" stroke="#3a3a3a" stroke-width="0.1" font-weight="normal" >-6</text>
<line x1="306.6" y1="364.40" x2="308.40000000000003" y2="364.40" stroke="#bdbdbd" stroke-width="0.6"/>
<line x1="529.3" y1="364.40" x2="527.5" y2="364.40" stroke="#bdbdbd" stroke-width="0.6"/>
<text x="304.00" y="366.68" font-size="6.5" text-anchor="end" fill="#3a3a3a" stroke="#3a3a3a" stroke-width="0.1" font-weight="normal" >-4</text>
<line x1="306.6" y1="344.10" x2="308.40000000000003" y2="344.10" stroke="#bdbdbd" stroke-width="0.6"/>
<line x1="529.3" y1="344.10" x2="527.5" y2="344.10" stroke="#bdbdbd" stroke-width="0.6"/>
<text x="304.00" y="346.38" font-size="6.5" text-anchor="end" fill="#3a3a3a" stroke="#3a3a3a" stroke-width="0.1" font-weight="normal" >-2</text>
<line x1="306.6" y1="323.80" x2="308.40000000000003" y2="323.80" stroke="#bdbdbd" stroke-width="0.6"/>
<line x1="529.3" y1="323.80" x2="527.5" y2="323.80" stroke="#bdbdbd" stroke-width="0.6"/>
<text x="304.00" y="326.07" font-size="6.5" text-anchor="end" fill="#3a3a3a" stroke="#3a3a3a" stroke-width="0.1" font-weight="normal" >0</text>
<line x1="306.6" y1="303.50" x2="308.40000000000003" y2="303.50" stroke="#bdbdbd" stroke-width="0.6"/>
<line x1="529.3" y1="303.50" x2="527.5" y2="303.50" stroke="#bdbdbd" stroke-width="0.6"/>
<text x="304.00" y="305.77" font-size="6.5" text-anchor="end" fill="#3a3a3a" stroke="#3a3a3a" stroke-width="0.1" font-weight="normal" >2</text>
<line x1="306.6" y1="283.20" x2="308.40000000000003" y2="283.20" stroke="#bdbdbd" stroke-width="0.6"/>
<line x1="529.3" y1="283.20" x2="527.5" y2="283.20" stroke="#bdbdbd" stroke-width="0.6"/>
<text x="304.00" y="285.47" font-size="6.5" text-anchor="end" fill="#3a3a3a" stroke="#3a3a3a" stroke-width="0.1" font-weight="normal" >4</text>
<line x1="306.6" y1="262.90" x2="308.40000000000003" y2="262.90" stroke="#bdbdbd" stroke-width="0.6"/>
<line x1="529.3" y1="262.90" x2="527.5" y2="262.90" stroke="#bdbdbd" stroke-width="0.6"/>
<text x="304.00" y="265.17" font-size="6.5" text-anchor="end" fill="#3a3a3a" stroke="#3a3a3a" stroke-width="0.1" font-weight="normal" >6</text>
<line x1="306.6" y1="242.60" x2="308.40000000000003" y2="242.60" stroke="#bdbdbd" stroke-width="0.6"/>
<line x1="529.3" y1="242.60" x2="527.5" y2="242.60" stroke="#bdbdbd" stroke-width="0.6"/>
<text x="304.00" y="244.88" font-size="6.5" text-anchor="end" fill="#3a3a3a" stroke="#3a3a3a" stroke-width="0.1" font-weight="normal" >8</text>
<line x1="306.6" y1="222.30" x2="308.40000000000003" y2="222.30" stroke="#bdbdbd" stroke-width="0.6"/>
<line x1="529.3" y1="222.30" x2="527.5" y2="222.30" stroke="#bdbdbd" stroke-width="0.6"/>
<text x="304.00" y="224.58" font-size="6.5" text-anchor="end" fill="#3a3a3a" stroke="#3a3a3a" stroke-width="0.1" font-weight="normal" >10</text>
<text x="417.80" y="423.60" font-size="7.8" text-anchor="middle" fill="#3a3a3a" stroke="#3a3a3a" stroke-width="0.1" font-weight="normal" >Scores on PC 1 (99.15%)</text>
<text x="0.00" y="0.00" font-size="7.5" text-anchor="middle" fill="#3a3a3a" stroke="#3a3a3a" stroke-width="0.1" font-weight="normal" transform="translate(294.0 313.7) rotate(-90)">Scores on PC 4 (0.03%)</text>
<text x="259.80" y="230.10" font-size="8.4" text-anchor="start" fill="#222" stroke="#222" stroke-width="0.18" font-weight="bold" >(d)</text>
<rect x="446.4" y="225.4" width="80" height="54" fill="#fff" stroke="#bdbdbd" stroke-width="0.7"/>
<path d="M453.6 228.1L455.0 230.0L453.6 231.9L452.2 230.0Z" fill="#e8211f"/>
<text x="461.00" y="232.70" font-size="6.4" text-anchor="start" fill="#3a3a3a" stroke="#3a3a3a" stroke-width="0.1" font-weight="normal" >Session 1A</text>
<rect x="452.5" y="236.5" width="2.2" height="2.2" fill="#22bb22"/>
<text x="461.00" y="240.27" font-size="6.4" text-anchor="start" fill="#3a3a3a" stroke="#3a3a3a" stroke-width="0.1" font-weight="normal" >Session 2A</text>
<path d="M453.6 243.4L455.2 246.3L452.0 246.3Z" fill="#1a1ad8"/>
<text x="461.00" y="247.84" font-size="6.4" text-anchor="start" fill="#3a3a3a" stroke="#3a3a3a" stroke-width="0.1" font-weight="normal" >Session 3A</text>
<path d="M453.6 254.6L455.3 251.4L451.9 251.4Z" fill="#1fe3f5"/>
<text x="461.00" y="255.41" font-size="6.4" text-anchor="start" fill="#3a3a3a" stroke="#3a3a3a" stroke-width="0.1" font-weight="normal" >Session 1B</text>
<circle cx="453.6" cy="260.3" r="1.3" fill="#f020f0"/>
<text x="461.00" y="262.98" font-size="6.4" text-anchor="start" fill="#3a3a3a" stroke="#3a3a3a" stroke-width="0.1" font-weight="normal" >Session 2B</text>
<circle cx="453.6" cy="267.9" r="1.45" fill="#f8dca0" stroke="#e89a60" stroke-width="0.8"/>
<text x="461.00" y="270.55" font-size="6.4" text-anchor="start" fill="#3a3a3a" stroke="#3a3a3a" stroke-width="0.1" font-weight="normal" >Session 3B</text>
<line x1="447.2" y1="275.4" x2="459.5" y2="275.4" stroke="#8cc6e0" stroke-width="0.8" stroke-dasharray="1.8 1.4"/>
<text x="461.00" y="278.12" font-size="6.4" text-anchor="start" fill="#3a3a3a" stroke="#3a3a3a" stroke-width="0.1" font-weight="normal" >95% Confidence Level</text>
</svg></body></html>
